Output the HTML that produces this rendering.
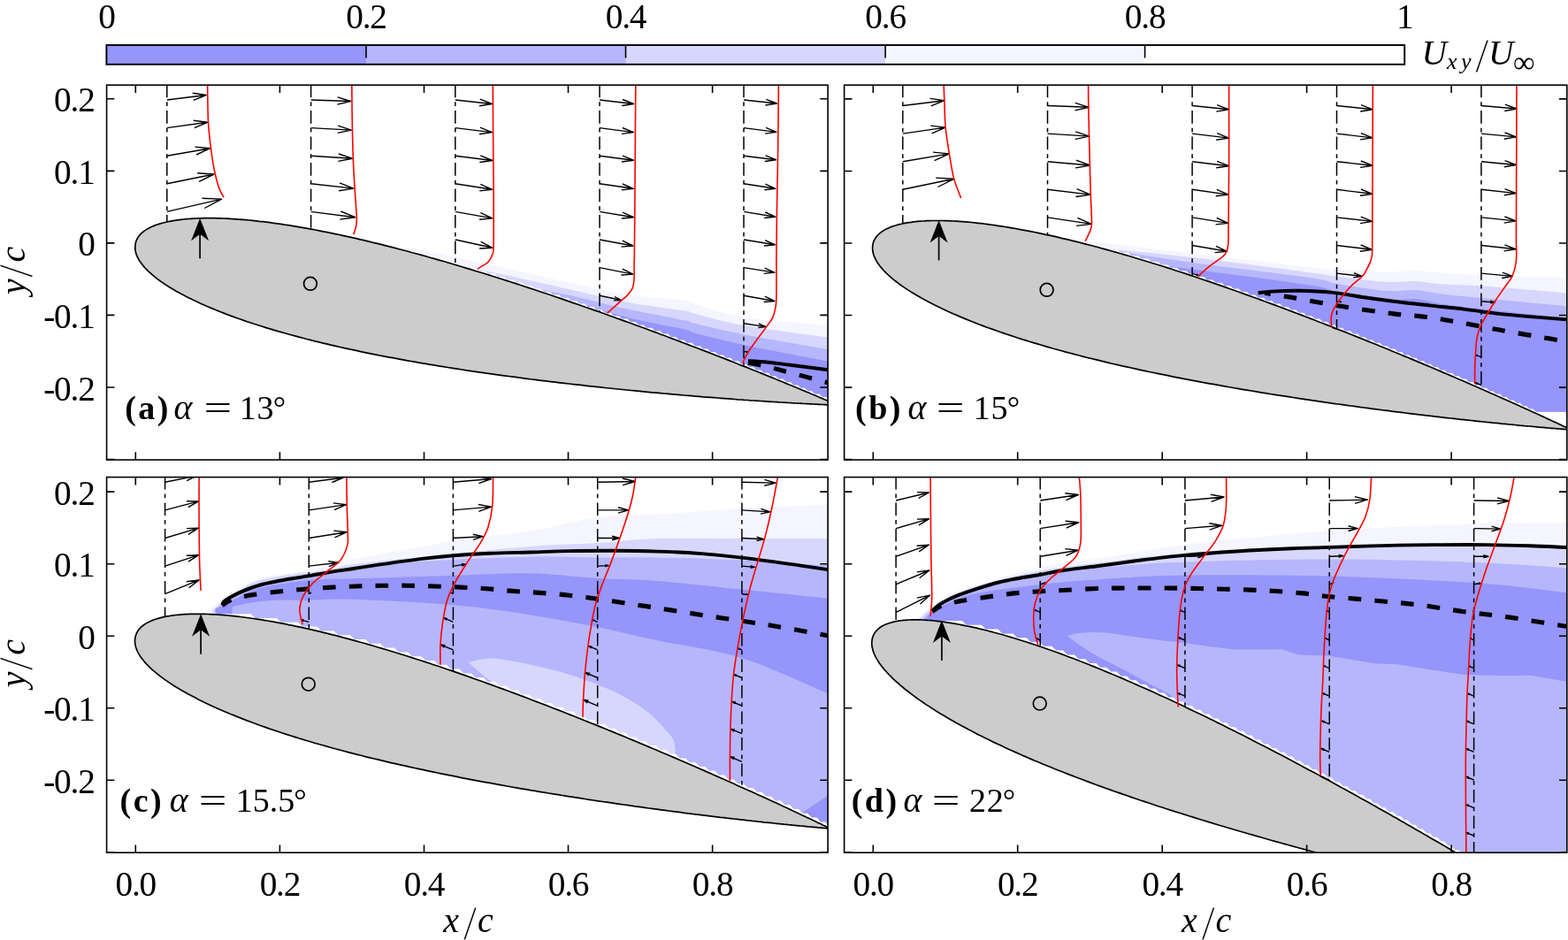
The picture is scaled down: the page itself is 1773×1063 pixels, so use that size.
<!DOCTYPE html>
<html lang="en"><head><meta charset="utf-8"><title>Velocity field around airfoil</title>
<style>html,body{margin:0;padding:0;background:#fff}body{width:1773px;height:1063px;overflow:hidden}svg{display:block}text{font-family:"Liberation Serif", "DejaVu Serif", serif;fill:#000;font-size:39.3px;letter-spacing:-1.2px}.m{font-style:italic;font-size:40px;letter-spacing:0}.b{font-weight:bold}.n{font-style:normal}.sl{font-style:normal;stroke:#fff;stroke-width:0.9px}.fr{fill:none;stroke:#000;stroke-width:1.6}.cb{fill:none;stroke:#000;stroke-width:1.9}.tk{stroke:#000;stroke-width:1.6;fill:none}.dd{stroke:#000;stroke-width:1.5;fill:none;stroke-dasharray:14.7 5 4.7 5.1}.ar{stroke:#000;stroke-width:1.4;fill:none;stroke-linejoin:round}.rd{stroke:#ff0000;stroke-width:1.6;fill:none}.ks{stroke:#000;stroke-width:3.9;fill:none;stroke-linecap:butt}.kd{stroke:#000;stroke-width:5.1;fill:none;stroke-dasharray:14.6 15.2}.af{fill:#cccccc;stroke:#000;stroke-width:1.7;stroke-linejoin:round}</style></head><body>
<svg width="1773" height="1063" viewBox="0 0 1773 1063">
<rect width="1773" height="1063" fill="#fff"/>
<g id="colorbar">
<rect x="120.4" y="51" width="294.1" height="21.8" fill="#9595fa"/>
<rect x="414" y="51" width="294.1" height="21.8" fill="#b6b6fc"/>
<rect x="707.5" y="51" width="294.1" height="21.8" fill="#d7d7fd"/>
<rect x="1001.1" y="51" width="294.1" height="21.8" fill="#f5f5ff"/>
<rect x="1294.6" y="51" width="294.1" height="21.8" fill="#ffffff"/>
<rect class="cb" x="120.4" y="51" width="1467.8" height="21.8"/>
<path class="tk" d="M414 51 v14.5"/>
<path class="tk" d="M707.5 51 v14.5"/>
<path class="tk" d="M1001.1 51 v14.5"/>
<path class="tk" d="M1294.6 51 v14.5"/>
<text x="120.4" y="31.8" text-anchor="middle">0</text>
<text x="414" y="31.8" text-anchor="middle">0.2</text>
<text x="707.5" y="31.8" text-anchor="middle">0.4</text>
<text x="1001.1" y="31.8" text-anchor="middle">0.6</text>
<text x="1294.6" y="31.8" text-anchor="middle">0.8</text>
<text x="1588.2" y="31.8" text-anchor="middle">1</text>
<text class="m" y="72.9" style="font-size:39.4px"><tspan x="1607.4">U</tspan><tspan x="1635.9" y="77.8" style="font-size:26px">x</tspan><tspan x="1651.9" y="77.8" style="font-size:26px">y</tspan><tspan class="sl" x="1668.1" y="80.8" style="font-size:55.9px">/</tspan><tspan x="1683" y="72.9">U</tspan><tspan class="n" x="1711" y="81.6" style="font-size:34.5px">∞</tspan></text>
</g>
<defs>
<clipPath id="cpa"><rect x="120.6" y="96.2" width="815.5" height="423.8"/></clipPath>
<clipPath id="cfa"><rect x="120.6" y="96.2" width="815.5" height="423.8"/></clipPath>
<clipPath id="cpb"><rect x="954.6" y="96.2" width="817.2" height="423.8"/></clipPath>
<clipPath id="cfb"><rect x="954.6" y="96.2" width="817.2" height="369.5"/></clipPath>
<clipPath id="cpc"><rect x="120.6" y="539.6" width="815.5" height="424.6"/></clipPath>
<clipPath id="cfc"><rect x="120.6" y="539.6" width="815.5" height="424.6"/></clipPath>
<clipPath id="cpd"><rect x="954.6" y="539.6" width="817.2" height="424.6"/></clipPath>
<clipPath id="cfd"><rect x="954.6" y="539.6" width="817.2" height="424.6"/></clipPath>
</defs>
<g id="panel-a">
<g clip-path="url(#cpa)">
<g clip-path="url(#cfa)">
<path d="M460 345.7 L460 280.5 C465.5 281.4 463 279.6 493 286 C523 292.4 604.2 310.8 640 318.6 C675.8 326.4 685.1 329.5 707.7 333 C730.3 336.5 762.7 338.1 775.4 339.8 C788.1 341.5 773.2 340.1 783.9 343.2 C794.6 346.3 814.7 354.3 839.8 358.4 C864.9 362.5 917.1 366 934.6 367.7 C952.1 369.4 943 368.5 944.7 368.7 L944.1 368.7 L944.1 600 L947.8 458.3 Z" fill="#f5f5ff"/>
<path d="M530 361.9 L530 302 C548.3 306 610.4 319.6 640 326.2 C669.6 332.8 685.1 337.3 707.7 341.5 C730.3 345.7 762.7 349.5 775.4 351.6 C788.1 353.7 773.2 351.5 783.9 354.2 C794.6 356.9 814.7 363.2 839.8 367.7 C864.9 372.2 917.1 378.8 934.6 381.3 C952.1 383.8 943 382.4 944.7 382.6 L944.1 382.6 L944.1 600 L947.8 458.3 Z" fill="#d7d7fd"/>
<path d="M580 373.4 L580 322 C590 323.8 618.7 328.5 640 333 C661.3 337.5 685.1 344.2 707.7 349.1 C730.3 354 762.7 359.9 775.4 362.6 C788.1 365.3 773.2 362.6 783.9 365.2 C794.6 367.8 814.7 373 839.8 377.9 C864.9 382.8 917.1 391.7 934.6 394.8 C952.1 397.9 943 396.2 944.7 396.5 L944.1 396.5 L944.1 600 L947.8 458.3 Z" fill="#b6b6fc"/>
<path d="M640 387.3 L640 338.6 C651.3 341.9 685.1 352.7 707.7 358.4 C730.3 364.1 762.7 369.8 775.4 372.8 C788.1 375.8 773.2 373.4 783.9 376.2 C794.6 379 814.7 384.3 839.8 389.7 C864.9 395.1 917.1 404.9 934.6 408.3 C952.1 411.7 943 409.7 944.7 410 L944.1 410 L944.1 600 L947.8 458.3 Z" fill="#9595fa"/>
</g>
<path d="M480 289.2 L491.5 289.2 L494.9 292.6 L503.4 292.6 L506.8 296 L514.8 296 L518.2 299.4 L526.2 299.4 L529.6 302.8 L537.6 302.8 L541 306.2 L548.5 306.2 L551.9 309.6 L559.4 309.6 L562.8 313 L570.3 313 L573.7 316.4 L580.7 316.4 L584.1 319.8 L591.1 319.8 L594.5 323.2 L601.5 323.2 L604.9 326.6 L611.9 326.6 L615.3 330 L621.8 330 L625.2 333.4 L632.2 333.4 L635.6 336.8 L642.1 336.8 L645.5 340.2 L652 340.2 L655.4 343.6 L661.4 343.6 L664.8 347 L671.3 347 L674.7 350.4 L680.7 350.4 L684.1 353.8 L690.6 353.8 L694 357.2 L700 357.2 L703.4 360.6 L709.4 360.6 L712.8 364 L718.8 364 L722.2 367.4 L727.7 367.4 L731.1 370.8 L737.1 370.8 L740.5 374.2 L746.5 374.2 L749.9 377.6 L755.4 377.6 L758.8 381 L764.3 381 L767.7 384.4 L773.2 384.4 L776.6 387.8 L782.6 387.8 L786 391.2 L791.5 391.2 L794.9 394.6 L799.9 394.6 L803.3 398 L808.8 398 L812.2 401.4 L817.7 401.4 L821.1 404.8 L826.1 404.8 L829.5 408.2 L835 408.2 L838.4 411.6 L843.4 411.6 L846.8 415 L851.8 415 L855.2 418.4 L860.2 418.4 L863.6 421.8 L868.6 421.8 L872 425.2 L877 425.2 L880.4 428.6 L885.4 428.6 L888.8 432 L893.8 432 L897.2 435.4 L902.2 435.4 L905.6 438.8 L910.1 438.8 L913.5 442.2 L918 442.2 L921.4 445.6 L926.4 445.6 L929.8 449 L934.3 449 L937.7 452.4 L942.2 452.4 L945.6 455.8 L946.6 455.8 L950 459.2 L950 459.3 L944 457.7 L938 455.1 L932 452.6 L926 450 L920 447.5 L914 445 L908 442.5 L902 440 L896 437.5 L890 435 L884 432.5 L878 430.1 L872 427.6 L866 425.2 L860 422.8 L854 420.4 L848 418 L842 415.6 L836 413.2 L830 410.8 L824 408.5 L818 406.1 L812 403.8 L806 401.4 L800 399.1 L794 396.8 L788 394.5 L782 392.2 L776 389.9 L770 387.6 L764 385.4 L758 383.1 L752 380.9 L746 378.6 L740 376.4 L734 374.2 L728 372 L722 369.8 L716 367.6 L710 365.4 L704 363.2 L698 361 L692 358.9 L686 356.7 L680 354.6 L674 352.5 L668 350.4 L662 348.3 L656 346.2 L650 344.1 L644 342 L638 340 L632 337.9 L626 335.9 L620 333.9 L614 331.8 L608 329.8 L602 327.8 L596 325.9 L590 323.9 L584 321.9 L578 320 L572 318.1 L566 316.2 L560 314.3 L554 312.4 L548 310.5 L542 308.7 L536 306.8 L530 305 L524 303.2 L518 301.4 L512 299.6 L506 297.9 L500 296.1 L494 294.4 L488 292.7 L482 291 L480 290.4Z" fill="#fff"/>
<path class="af" d="M153.3 274.9 L153.6 273.8 L154 272.6 L154.4 271.5 L154.9 270.4 L155.5 269.4 L156.1 268.4 L156.8 267.3 L157.6 266.4 L158.4 265.4 L159.3 264.4 L160.3 263.5 L161.3 262.6 L162.4 261.7 L163.5 260.9 L164.8 260.1 L166.1 259.3 L167.4 258.5 L168.8 257.7 L170.3 257 L171.9 256.3 L173.5 255.6 L175.1 254.9 L176.9 254.3 L178.7 253.7 L180.5 253.1 L182.5 252.5 L184.5 252 L186.5 251.5 L188.6 251 L190.8 250.5 L193 250.1 L195.3 249.7 L197.6 249.3 L200.1 248.9 L202.5 248.6 L205.1 248.3 L207.6 248 L210.3 247.7 L213 247.5 L215.7 247.3 L218.5 247.1 L221.4 247 L224.3 246.9 L227.3 246.8 L230.3 246.7 L233.4 246.7 L236.5 246.7 L239.7 246.7 L243 246.7 L246.3 246.8 L249.6 246.9 L253 247 L256.4 247.2 L259.9 247.4 L263.4 247.6 L267 247.8 L270.7 248.1 L274.3 248.4 L278.1 248.7 L281.8 249 L285.6 249.4 L289.5 249.8 L293.4 250.3 L297.3 250.7 L301.3 251.2 L305.3 251.7 L309.4 252.3 L313.5 252.8 L317.6 253.4 L321.8 254.1 L326 254.7 L330.3 255.4 L334.6 256.1 L338.9 256.8 L343.3 257.6 L347.7 258.4 L352.1 259.2 L356.5 260 L361 260.9 L365.5 261.8 L370.1 262.7 L374.7 263.6 L379.3 264.6 L383.9 265.5 L388.6 266.6 L393.3 267.6 L398 268.6 L402.7 269.7 L407.5 270.8 L412.3 271.9 L417.1 273.1 L421.9 274.3 L426.8 275.4 L431.6 276.6 L436.5 277.9 L441.4 279.1 L446.4 280.4 L451.3 281.7 L456.3 283 L461.3 284.3 L466.2 285.7 L471.2 287 L476.3 288.4 L481.3 289.8 L486.3 291.2 L491.4 292.6 L496.4 294.1 L501.5 295.5 L506.6 297 L511.7 298.5 L516.7 300 L521.8 301.5 L526.9 303.1 L532 304.6 L537.1 306.2 L542.2 307.7 L547.4 309.3 L552.5 310.9 L557.6 312.5 L562.7 314.1 L567.8 315.7 L572.9 317.4 L578 319 L583.1 320.6 L588.1 322.3 L593.2 324 L598.3 325.6 L603.4 327.3 L608.4 329 L613.5 330.7 L618.5 332.3 L623.5 334 L628.5 335.7 L633.5 337.4 L638.5 339.1 L643.5 340.9 L648.4 342.6 L653.4 344.3 L658.3 346 L663.2 347.7 L668.1 349.4 L673 351.1 L677.8 352.8 L682.6 354.5 L687.4 356.3 L692.2 358 L697 359.7 L701.7 361.4 L706.4 363.1 L711.1 364.8 L715.8 366.5 L720.4 368.2 L725 369.8 L729.6 371.5 L734.1 373.2 L738.6 374.9 L743.1 376.5 L747.5 378.2 L751.9 379.8 L756.3 381.5 L760.7 383.1 L765 384.7 L769.3 386.4 L773.5 388 L777.7 389.6 L781.9 391.2 L786 392.7 L790.1 394.3 L794.2 395.9 L798.2 397.4 L802.1 398.9 L806.1 400.5 L809.9 402 L813.8 403.5 L817.6 404.9 L821.3 406.4 L825.1 407.9 L828.7 409.3 L832.3 410.7 L835.9 412.2 L839.4 413.6 L842.9 414.9 L846.3 416.3 L849.7 417.7 L853 419 L856.3 420.3 L859.6 421.6 L862.7 422.9 L865.9 424.1 L868.9 425.4 L872 426.6 L874.9 427.8 L877.8 429 L880.7 430.2 L883.5 431.3 L886.3 432.5 L889 433.6 L891.6 434.7 L894.2 435.7 L896.7 436.8 L899.2 437.8 L901.6 438.8 L904 439.8 L906.3 440.7 L908.5 441.7 L910.7 442.6 L912.8 443.5 L914.9 444.3 L916.9 445.2 L918.8 446 L920.7 446.8 L922.5 447.5 L924.3 448.3 L926 449 L927.6 449.7 L929.2 450.4 L930.7 451 L932.1 451.6 L933.5 452.2 L934.8 452.8 L936.1 453.3 L937.3 453.8 L938.4 454.3 L939.5 454.8 L940.5 455.2 L941.4 455.6 L942.3 456 L943.1 456.3 L943.9 456.6 L944.5 456.9 L945.2 457.2 L945.7 457.4 L946.2 457.6 L946.6 457.8 L947 458 L947.3 458.1 L947.5 458.2 L947.7 458.3 L947.8 458.3 L947.8 458.3 L947.8 458.3 L947.8 458.3 L947.7 458.3 L947.5 458.3 L947.2 458.3 L946.9 458.3 L946.5 458.3 L946.1 458.2 L945.5 458.2 L944.9 458.2 L944.3 458.2 L943.5 458.1 L942.7 458.1 L941.8 458.1 L940.9 458 L939.8 458 L938.8 457.9 L937.6 457.9 L936.4 457.8 L935.1 457.8 L933.7 457.7 L932.3 457.6 L930.7 457.5 L929.2 457.5 L927.5 457.4 L925.8 457.3 L924.1 457.2 L922.2 457.1 L920.3 457 L918.3 456.9 L916.3 456.8 L914.2 456.7 L912 456.6 L909.8 456.5 L907.5 456.4 L905.1 456.2 L902.7 456.1 L900.2 456 L897.7 455.8 L895.1 455.7 L892.4 455.5 L889.7 455.4 L886.9 455.2 L884 455 L881.1 454.9 L878.1 454.7 L875.1 454.5 L872 454.3 L868.9 454.1 L865.7 453.9 L862.4 453.7 L859.1 453.5 L855.7 453.2 L852.3 453 L848.8 452.8 L845.3 452.5 L841.7 452.3 L838.1 452 L834.4 451.8 L830.7 451.5 L826.9 451.2 L823.1 450.9 L819.2 450.6 L815.2 450.3 L811.3 450 L807.2 449.7 L803.2 449.4 L799.1 449.1 L794.9 448.8 L790.7 448.4 L786.5 448.1 L782.2 447.7 L777.9 447.4 L773.5 447 L769.1 446.6 L764.6 446.2 L760.2 445.8 L755.6 445.4 L751.1 445 L746.5 444.6 L741.9 444.2 L737.2 443.8 L732.5 443.3 L727.8 442.9 L723 442.4 L718.2 441.9 L713.4 441.5 L708.6 441 L703.7 440.5 L698.8 440 L693.8 439.5 L688.9 439 L683.9 438.5 L678.9 437.9 L673.9 437.4 L668.8 436.9 L663.8 436.3 L658.7 435.7 L653.6 435.2 L648.4 434.6 L643.3 434 L638.1 433.4 L633 432.8 L627.8 432.2 L622.6 431.6 L617.3 430.9 L612.1 430.3 L606.9 429.6 L601.6 429 L596.3 428.3 L591.1 427.6 L585.8 426.9 L580.5 426.2 L575.2 425.5 L569.9 424.8 L564.6 424.1 L559.3 423.4 L554 422.6 L548.7 421.9 L543.4 421.1 L538.1 420.3 L532.9 419.6 L527.6 418.8 L522.3 418 L517 417.2 L511.7 416.3 L506.4 415.5 L501.2 414.7 L495.9 413.8 L490.7 412.9 L485.4 412.1 L480.2 411.2 L475 410.3 L469.8 409.4 L464.6 408.5 L459.5 407.6 L454.3 406.6 L449.2 405.7 L444.1 404.7 L439 403.8 L433.9 402.8 L428.8 401.8 L423.8 400.8 L418.8 399.8 L413.8 398.8 L408.9 397.8 L403.9 396.7 L399 395.7 L394.1 394.6 L389.3 393.6 L384.5 392.5 L379.7 391.4 L374.9 390.3 L370.2 389.2 L365.5 388.1 L360.8 386.9 L356.2 385.8 L351.6 384.6 L347 383.5 L342.5 382.3 L338 381.1 L333.5 379.9 L329.1 378.7 L324.8 377.5 L320.4 376.3 L316.1 375.1 L311.9 373.9 L307.7 372.6 L303.5 371.4 L299.4 370.1 L295.3 368.8 L291.3 367.5 L287.3 366.3 L283.4 365 L279.5 363.7 L275.6 362.4 L271.9 361 L268.1 359.7 L264.4 358.4 L260.8 357.1 L257.2 355.7 L253.7 354.4 L250.2 353 L246.7 351.6 L243.4 350.3 L240 348.9 L236.8 347.5 L233.6 346.2 L230.4 344.8 L227.3 343.4 L224.3 342 L221.3 340.6 L218.4 339.2 L215.5 337.8 L212.7 336.4 L209.9 335 L207.2 333.6 L204.6 332.2 L202.1 330.8 L199.5 329.4 L197.1 328 L194.7 326.6 L192.4 325.2 L190.1 323.8 L187.9 322.4 L185.8 321 L183.8 319.6 L181.7 318.2 L179.8 316.8 L177.9 315.4 L176.1 314 L174.4 312.6 L172.7 311.2 L171.1 309.8 L169.6 308.4 L168.1 307.1 L166.7 305.7 L165.3 304.3 L164 303 L162.8 301.6 L161.7 300.3 L160.6 298.9 L159.6 297.6 L158.7 296.3 L157.8 295 L157 293.6 L156.3 292.3 L155.6 291 L155 289.8 L154.5 288.5 L154 287.2 L153.7 285.9 L153.3 284.7 L153.1 283.4 L152.9 282.2 L152.8 280.9 L152.8 279.7 L152.8 278.5 L152.9 277.3 L153.1 276.1 L153.3 274.9Z"/>
<path class="dd" d="M188.8 95.5 V250.9"/>
<path class="dd" d="M351.6 95.5 V259.1"/>
<path class="dd" d="M514.8 95.5 V299.4"/>
<path class="dd" d="M678 95.5 V352.9"/>
<path class="dd" d="M841 95.5 V414.2"/>
<path class="ar" d="M188.8 113 L233.1 107.5 M218.8 113.3 L233.1 107.5 L217.8 105.3 M188.8 144.6 L234.6 138.3 M219.8 144.6 L234.6 138.3 L218.7 136.3 M188.8 176.2 L237.6 167.7 M222 175 L237.6 167.7 L220.5 166.1 M188.8 207.8 L241.9 197 M225.1 205.4 L241.9 197 L223.1 195.8 M188.8 239.4 L250.6 225.1 M231.2 235.5 L250.6 225.1 L228.6 224.3 M351.6 113 L396.6 114.5 M381.4 118.1 L396.6 114.5 L381.6 109.9 M351.6 144.6 L397.3 147.1 M381.8 150.4 L397.3 147.1 L382.2 142.1 M351.6 176.2 L398.3 179.2 M382.4 182.4 L398.3 179.2 L382.9 174 M351.6 207.8 L399.8 213.1 M383.2 215.7 L399.8 213.1 L384.1 206.9 M351.6 239.4 L401.6 245.7 M384.3 248.1 L401.6 245.7 L385.4 239 M514.8 113 L556.3 117.5 M542 119.8 L556.3 117.5 L542.8 112.2 M514.8 144.6 L556.3 149.6 M542 151.7 L556.3 149.6 L542.9 144.2 M514.8 176.2 L556.8 181.5 M542.3 183.5 L556.8 181.5 L543.2 175.9 M514.8 207.8 L556.8 214.3 M542.2 215.9 L556.8 214.3 L543.3 208.3 M514.8 239.4 L556.8 246.9 M542.1 248.2 L556.8 246.9 L543.4 240.6 M514.8 271 L557.1 280.3 M542.1 281 L557.1 280.3 L543.7 273.3 M678 113 L716.5 117.5 M703.2 119.5 L716.5 117.5 L704 112.5 M678 144.6 L716.3 149.6 M703 151.4 L716.3 149.6 L703.9 144.5 M678 176.2 L716.3 181.2 M703 183 L716.3 181.2 L703.9 176.1 M678 207.8 L716.3 213.3 M702.9 214.9 L716.3 213.3 L703.9 208 M678 239.4 L716.3 245.7 M702.9 247 L716.3 245.7 L704 240.1 M678 271 L715.8 278 M702.5 279.1 L715.8 278 L703.7 272.2 M678 302.6 L715.8 310.1 M702.4 311 L715.8 310.1 L703.8 304.2 M678 334.2 L702.7 339.5 M694 339.9 L702.7 339.5 L694.9 335.5 M841 113 L878.4 117 M865.5 119 L878.4 117 L866.3 112.3 M841 144.6 L877.9 149.4 M865.1 151.1 L877.9 149.4 L866 144.4 M841 176.2 L877.4 180.7 M864.8 182.5 L877.4 180.7 L865.6 175.9 M841 207.8 L876.9 213.3 M864.4 214.7 L876.9 213.3 L865.4 208.2 M841 239.4 L876.7 245.2 M864.2 246.5 L876.7 245.2 L865.2 240 M841 271 L876.4 276.8 M864 278 L876.4 276.8 L865.1 271.6 M841 302.6 L875.9 308.1 M863.7 309.4 L875.9 308.1 L864.7 303.1 M841 334.2 L875.9 340.5 M863.7 341.5 L875.9 340.5 L864.8 335.2 M841 365.8 L865.9 369.6 M857.2 370.6 L865.9 369.6 L857.9 366 M841 397.4 L845.9 398.2 M844.2 398.3 L845.9 398.2 L844.3 397.5"/>
<path class="ks" d="M845.9 408.2 C849.7 408.4 860.5 408.9 868.4 409.7 C876.3 410.4 882.2 411.3 893.5 412.7 C904.7 414.1 927.7 417.1 936 418.2 C944.3 419.3 942.3 419 943.5 419.2"/>
<path class="kd" d="M845.9 410.2 C849.7 410.9 860.5 412.8 868.4 414.7 C876.3 416.6 882.2 418.4 893.5 421.4 C904.7 424.4 927.7 430.5 936 432.7 C944.3 434.9 942.3 434.4 943.5 434.7"/>
<path class="rd" d="M234.6 95 C234.7 98.3 234.7 107.5 234.9 115 C235 122.5 235.1 131.7 235.6 140.1 C236.2 148.4 237.1 156.7 238.1 165.1 C239.2 173.4 240.3 182.2 241.9 190.1 C243.5 198 245.8 207.1 247.6 212.6 C249.5 218.1 252.2 221.4 253.1 223.1"/>
<path class="rd" d="M397.8 95 C397.9 102.5 398 124.2 398.3 140.1 C398.6 155.9 399.1 175.1 399.8 190.1 C400.5 205.1 401.7 221 402.3 230.2 C402.9 239.3 403.2 241 403.3 245.2 C403.4 249.3 403.4 251.8 402.8 255.2 C402.2 258.5 400.3 263.5 399.8 265.2"/>
<path class="rd" d="M557.3 95 C557.4 104.6 557.4 132.5 557.6 152.6 C557.7 172.6 558 194.3 558.1 215.1 C558.2 236 558.3 265.6 558.1 277.7 C557.9 289.8 557.9 284.6 556.8 287.7 C555.8 290.9 554.7 293.7 551.8 296.5 C549 299.2 541.8 302.9 539.8 304.2"/>
<path class="rd" d="M718.8 95 C718.7 106.7 718.4 140.9 718.3 165.1 C718.1 189.3 717.9 219.3 717.8 240.2 C717.6 261 717.4 280.3 717.3 290.2 C717.1 300.2 717 295.8 717 300 C717 304.2 717.3 311 717 315.2 C716.7 319.4 716.6 322.3 715.3 325.4 C714 328.5 711.5 331.5 709.4 333.9 C707.3 336.3 705.1 337.6 702.6 339.8 C700.1 342.1 696.9 345 694.2 347.4 C691.5 349.8 687.9 353.1 686.6 354.2"/>
<path class="rd" d="M880.4 95 C880.3 106.7 880 140.9 879.7 165.1 C879.4 189.3 878.7 219.3 878.4 240.2 C878.1 261 878 280.3 877.9 290.2 C877.8 300.2 877.9 292.7 877.9 300 C877.9 307.3 878 326 877.9 333.9 C877.8 341.8 877.7 343.2 877 347.4 C876.3 351.6 875.3 355.6 873.6 359.3 C871.9 363 869.6 365.4 866.8 369.4 C864 373.3 859.8 378.8 856.7 383 C853.6 387.2 850.6 391.1 848.2 394.8 C845.8 398.5 843.7 402.3 842.3 405 C840.9 407.7 840.2 409.9 839.8 410.9"/>
<circle cx="350.9" cy="320.8" r="7.4" fill="none" stroke="#000" stroke-width="1.7"/>
<path d="M226.1 292.2 V258.7" stroke="#000" stroke-width="1.7" fill="none"/>
<path d="M226.1 246.7 L236.1 272.2 L226.1 264.7 L216.1 272.2Z" fill="#000"/>
</g>
<path class="tk" d="M153.3 520 v-8.8 M153.3 96.2 v8.8 M316.4 520 v-8.8 M316.4 96.2 v8.8 M479.5 520 v-8.8 M479.5 96.2 v8.8 M642.5 520 v-8.8 M642.5 96.2 v8.8 M805.6 520 v-8.8 M805.6 96.2 v8.8 M120.6 519.5 h8.8 M936.1 519.5 h-8.8 M120.6 438 h8.8 M936.1 438 h-8.8 M120.6 356.4 h8.8 M936.1 356.4 h-8.8 M120.6 274.9 h8.8 M936.1 274.9 h-8.8 M120.6 193.4 h8.8 M936.1 193.4 h-8.8 M120.6 111.8 h8.8 M936.1 111.8 h-8.8"/>
<rect class="fr" x="120.6" y="96.2" width="815.5" height="423.8"/>
<text x="106.6" y="126.3" text-anchor="end">0.2</text>
<text x="106.6" y="207.9" text-anchor="end">0.1</text>
<text x="106.6" y="289.4" text-anchor="end">0</text>
<text x="106.6" y="370.9" text-anchor="end">-0.1</text>
<text x="106.6" y="452.5" text-anchor="end">-0.2</text>
<text class="m" transform="translate(28.4 334.6) rotate(-90)"><tspan x="1.6" y="0">y</tspan><tspan class="sl" x="20.6" y="7.7" style="font-size:55px">/</tspan><tspan x="38.1" y="0">c</tspan></text>
<text y="474.1" style="font-size:38px;letter-spacing:0"><tspan class="b" x="141.3" style="letter-spacing:2.4px">(a)</tspan><tspan class="m" x="196.6">α</tspan><tspan x="230.6" textLength="31.7" lengthAdjust="spacingAndGlyphs">=</tspan><tspan x="270.8" style="letter-spacing:0.8px">13</tspan><tspan x="308.7" y="473.3" style="font-size:36px">°</tspan></text>
</g>
<g id="panel-b">
<g clip-path="url(#cpb)">
<g clip-path="url(#cfb)">
<path d="M1229 339.6 L1229 272.3 C1248.8 274.7 1306.2 281.8 1348 286.7 C1389.8 291.6 1452.8 298.9 1480 302 C1507.2 305.1 1496.8 304.1 1511.5 305.1 C1526.1 306 1553 307.4 1567.8 307.6 C1582.6 307.7 1589.9 305.8 1600.3 306.1 C1610.7 306.3 1617 307.9 1630.3 308.8 C1643.7 309.7 1656.8 310.3 1680.4 311.3 C1704 312.3 1755.1 313.9 1771.7 314.6 C1788.4 315.2 1779 315 1780.5 315.1 L1779.8 315.1 L1779.8 600 L1776.7 486 Z" fill="#f5f5ff"/>
<path d="M1247.7 344.6 L1247.7 280.8 C1264.4 282.5 1309.3 286.5 1348 291 C1386.7 295.5 1452.8 304.3 1480 307.9 C1507.2 311.5 1496.8 310.7 1511.5 312.6 C1526.1 314.4 1553 317.9 1567.8 318.8 C1582.6 319.7 1589.9 317.6 1600.3 318.1 C1610.7 318.5 1617 320.4 1630.3 321.3 C1643.7 322.3 1656.8 322.2 1680.4 323.8 C1704 325.5 1755.1 330 1771.7 331.3 C1788.4 332.7 1779 332 1780.5 332.1 L1779.8 332.1 L1779.8 600 L1776.7 486 Z" fill="#d7d7fd"/>
<path d="M1264.6 349.1 L1264.6 284.2 C1278.5 286.3 1312.1 292 1348 296.9 C1383.9 301.8 1452.8 309.8 1480 313.8 C1507.2 317.8 1496.8 318.3 1511.5 320.8 C1526.1 323.3 1553 327.6 1567.8 328.8 C1582.6 330 1589.9 327.5 1600.3 328.1 C1610.7 328.7 1617 331 1630.3 332.6 C1643.7 334.2 1656.8 335.3 1680.4 337.6 C1704 339.9 1755.1 344.8 1771.7 346.3 C1788.4 347.9 1779 347 1780.5 347.1 L1779.8 347.1 L1779.8 600 L1776.7 486 Z" fill="#b6b6fc"/>
<path d="M1298.5 358.2 L1298.5 297.7 C1306.8 298.8 1317.8 300.4 1348 304.5 C1378.2 308.6 1452.8 318 1480 322.3 C1507.2 326.6 1496.8 327.3 1511.5 330.1 C1526.1 332.8 1553 337.5 1567.8 338.8 C1582.6 340.2 1589.9 337.3 1600.3 338.1 C1610.7 338.9 1617 341.8 1630.3 343.8 C1643.7 345.8 1656.8 347.5 1680.4 350.1 C1704 352.7 1755.1 357.9 1771.7 359.6 C1788.4 361.3 1779 360 1780.5 360.1 L1779.8 360.1 L1779.8 600 L1776.7 486 Z" fill="#9595fa"/>
</g>
<path d="M1240 279 L1252 279 L1255.4 282.4 L1263.9 282.4 L1267.3 285.8 L1275.8 285.8 L1279.2 289.2 L1287.2 289.2 L1290.6 292.6 L1298.6 292.6 L1302 296 L1309.5 296 L1312.9 299.4 L1320.4 299.4 L1323.8 302.8 L1330.8 302.8 L1334.2 306.2 L1341.2 306.2 L1344.6 309.6 L1351.6 309.6 L1355 313 L1361.5 313 L1364.9 316.4 L1371.4 316.4 L1374.8 319.8 L1381.3 319.8 L1384.7 323.2 L1391.2 323.2 L1394.6 326.6 L1400.6 326.6 L1404 330 L1410 330 L1413.4 333.4 L1419.4 333.4 L1422.8 336.8 L1428.8 336.8 L1432.2 340.2 L1438.2 340.2 L1441.6 343.6 L1447.1 343.6 L1450.5 347 L1456.5 347 L1459.9 350.4 L1465.4 350.4 L1468.8 353.8 L1474.3 353.8 L1477.7 357.2 L1483.2 357.2 L1486.6 360.6 L1492.1 360.6 L1495.5 364 L1500.5 364 L1503.9 367.4 L1509.4 367.4 L1512.8 370.8 L1517.8 370.8 L1521.2 374.2 L1526.7 374.2 L1530.1 377.6 L1535.1 377.6 L1538.5 381 L1543.5 381 L1546.9 384.4 L1551.9 384.4 L1555.3 387.8 L1560.3 387.8 L1563.7 391.2 L1568.7 391.2 L1572.1 394.6 L1577.1 394.6 L1580.5 398 L1585 398 L1588.4 401.4 L1593.4 401.4 L1596.8 404.8 L1601.3 404.8 L1604.7 408.2 L1609.7 408.2 L1613.1 411.6 L1617.6 411.6 L1621 415 L1625.5 415 L1628.9 418.4 L1633.4 418.4 L1636.8 421.8 L1641.8 421.8 L1645.2 425.2 L1649.7 425.2 L1653.1 428.6 L1657.6 428.6 L1661 432 L1665 432 L1668.4 435.4 L1672.9 435.4 L1676.3 438.8 L1680.8 438.8 L1684.2 442.2 L1688.2 442.2 L1691.6 445.6 L1696.1 445.6 L1699.5 449 L1703.5 449 L1706.9 452.4 L1711.4 452.4 L1714.8 455.8 L1718.8 455.8 L1722.2 459.2 L1726.2 459.2 L1729.6 462.6 L1733.6 462.6 L1737 466 L1741 466 L1744.4 469.4 L1748.4 469.4 L1751.8 472.8 L1755.8 472.8 L1759.2 476.2 L1763.2 476.2 L1766.6 479.6 L1770.6 479.6 L1774 483 L1782 483 L1785.4 486.4 L1785.4 487 L1779.4 487 L1773.4 485.5 L1767.4 482.7 L1761.4 479.9 L1755.4 477.1 L1749.4 474.3 L1743.4 471.6 L1737.4 468.8 L1731.4 466.1 L1725.4 463.3 L1719.4 460.6 L1713.4 457.9 L1707.4 455.2 L1701.4 452.5 L1695.4 449.9 L1689.4 447.2 L1683.4 444.5 L1677.4 441.9 L1671.4 439.3 L1665.4 436.7 L1659.4 434 L1653.4 431.4 L1647.4 428.9 L1641.4 426.3 L1635.4 423.7 L1629.4 421.1 L1623.4 418.6 L1617.4 416 L1611.4 413.5 L1605.4 411 L1599.4 408.5 L1593.4 406 L1587.4 403.5 L1581.4 401 L1575.4 398.5 L1569.4 396.1 L1563.4 393.6 L1557.4 391.2 L1551.4 388.7 L1545.4 386.3 L1539.4 383.9 L1533.4 381.5 L1527.4 379.1 L1521.4 376.7 L1515.4 374.3 L1509.4 372 L1503.4 369.6 L1497.4 367.3 L1491.4 365 L1485.4 362.6 L1479.4 360.3 L1473.4 358 L1467.4 355.8 L1461.4 353.5 L1455.4 351.2 L1449.4 349 L1443.4 346.7 L1437.4 344.5 L1431.4 342.3 L1425.4 340.1 L1419.4 337.9 L1413.4 335.7 L1407.4 333.6 L1401.4 331.4 L1395.4 329.3 L1389.4 327.2 L1383.4 325.1 L1377.4 323 L1371.4 320.9 L1365.4 318.8 L1359.4 316.8 L1353.4 314.8 L1347.4 312.8 L1341.4 310.8 L1335.4 308.8 L1329.4 306.9 L1323.4 304.9 L1317.4 303 L1311.4 301.1 L1305.4 299.2 L1299.4 297.4 L1293.4 295.5 L1287.4 293.7 L1281.4 291.9 L1275.4 290.2 L1269.4 288.4 L1263.4 286.7 L1257.4 285 L1251.4 283.3 L1245.4 281.7 L1240 280.2Z" fill="#fff"/>
<path class="af" d="M987.3 275 L987.6 273.9 L988 272.8 L988.5 271.7 L989.1 270.6 L989.7 269.6 L990.3 268.6 L991.1 267.6 L991.9 266.6 L992.7 265.7 L993.7 264.8 L994.7 263.9 L995.7 263 L996.9 262.2 L998 261.4 L999.3 260.6 L1000.6 259.8 L1002 259.1 L1003.5 258.4 L1005 257.7 L1006.5 257 L1008.2 256.4 L1009.9 255.8 L1011.6 255.2 L1013.5 254.7 L1015.3 254.1 L1017.3 253.7 L1019.3 253.2 L1021.4 252.7 L1023.5 252.3 L1025.7 251.9 L1027.9 251.6 L1030.2 251.3 L1032.6 250.9 L1035 250.7 L1037.5 250.4 L1040.1 250.2 L1042.7 250 L1045.3 249.9 L1048 249.7 L1050.8 249.6 L1053.6 249.5 L1056.5 249.5 L1059.4 249.5 L1062.4 249.5 L1065.4 249.5 L1068.5 249.6 L1071.7 249.7 L1074.9 249.8 L1078.1 250 L1081.4 250.2 L1084.7 250.4 L1088.1 250.6 L1091.6 250.9 L1095 251.2 L1098.6 251.5 L1102.2 251.9 L1105.8 252.3 L1109.5 252.7 L1113.2 253.2 L1116.9 253.6 L1120.7 254.2 L1124.6 254.7 L1128.5 255.3 L1132.4 255.9 L1136.4 256.5 L1140.4 257.1 L1144.4 257.8 L1148.5 258.5 L1152.6 259.3 L1156.8 260.1 L1161 260.9 L1165.2 261.7 L1169.5 262.5 L1173.8 263.4 L1178.2 264.3 L1182.5 265.3 L1186.9 266.2 L1191.4 267.2 L1195.8 268.2 L1200.3 269.3 L1204.9 270.3 L1209.4 271.4 L1214 272.6 L1218.6 273.7 L1223.3 274.9 L1227.9 276.1 L1232.6 277.3 L1237.3 278.5 L1242 279.8 L1246.8 281.1 L1251.6 282.4 L1256.4 283.7 L1261.2 285.1 L1266 286.5 L1270.9 287.9 L1275.8 289.3 L1280.7 290.7 L1285.6 292.2 L1290.5 293.7 L1295.4 295.2 L1300.4 296.7 L1305.3 298.2 L1310.3 299.8 L1315.3 301.3 L1320.3 302.9 L1325.3 304.5 L1330.3 306.2 L1335.3 307.8 L1340.4 309.4 L1345.4 311.1 L1350.4 312.8 L1355.5 314.5 L1360.5 316.2 L1365.6 317.9 L1370.7 319.6 L1375.7 321.4 L1380.8 323.1 L1385.8 324.9 L1390.9 326.7 L1396 328.5 L1401 330.3 L1406.1 332.1 L1411.1 333.9 L1416.1 335.7 L1421.2 337.5 L1426.2 339.4 L1431.2 341.2 L1436.3 343.1 L1441.3 344.9 L1446.3 346.8 L1451.2 348.6 L1456.2 350.5 L1461.2 352.4 L1466.1 354.3 L1471.1 356.1 L1476 358 L1480.9 359.9 L1485.8 361.8 L1490.6 363.7 L1495.5 365.5 L1500.3 367.4 L1505.1 369.3 L1509.9 371.2 L1514.7 373.1 L1519.4 374.9 L1524.2 376.8 L1528.9 378.7 L1533.6 380.6 L1538.2 382.4 L1542.8 384.3 L1547.4 386.1 L1552 388 L1556.6 389.8 L1561.1 391.7 L1565.6 393.5 L1570 395.3 L1574.5 397.2 L1578.9 399 L1583.2 400.8 L1587.6 402.6 L1591.9 404.3 L1596.1 406.1 L1600.4 407.9 L1604.5 409.6 L1608.7 411.4 L1612.8 413.1 L1616.9 414.8 L1620.9 416.5 L1624.9 418.2 L1628.9 419.9 L1632.8 421.6 L1636.7 423.3 L1640.5 424.9 L1644.3 426.5 L1648.1 428.2 L1651.8 429.8 L1655.5 431.3 L1659.1 432.9 L1662.7 434.5 L1666.2 436 L1669.7 437.5 L1673.1 439 L1676.5 440.5 L1679.8 442 L1683.1 443.4 L1686.4 444.9 L1689.6 446.3 L1692.7 447.7 L1695.8 449 L1698.8 450.4 L1701.8 451.7 L1704.7 453 L1707.6 454.3 L1710.4 455.6 L1713.2 456.8 L1715.9 458 L1718.6 459.2 L1721.2 460.4 L1723.7 461.6 L1726.2 462.7 L1728.7 463.8 L1731.1 464.9 L1733.4 466 L1735.7 467 L1737.9 468 L1740 469 L1742.1 470 L1744.1 470.9 L1746.1 471.8 L1748 472.7 L1749.9 473.6 L1751.7 474.4 L1753.4 475.2 L1755.1 476 L1756.7 476.7 L1758.3 477.4 L1759.8 478.1 L1761.2 478.8 L1762.5 479.4 L1763.9 480 L1765.1 480.6 L1766.3 481.2 L1767.4 481.7 L1768.4 482.2 L1769.4 482.6 L1770.4 483.1 L1771.2 483.5 L1772 483.9 L1772.8 484.2 L1773.4 484.5 L1774.1 484.8 L1774.6 485.1 L1775.1 485.3 L1775.5 485.5 L1775.9 485.7 L1776.1 485.8 L1776.4 485.9 L1776.5 486 L1776.6 486 L1776.7 486 L1776.7 486 L1776.6 486 L1776.5 486 L1776.3 486 L1776.1 486 L1775.8 486 L1775.4 485.9 L1774.9 485.9 L1774.4 485.9 L1773.8 485.8 L1773.1 485.8 L1772.4 485.7 L1771.6 485.6 L1770.7 485.6 L1769.7 485.5 L1768.7 485.4 L1767.6 485.3 L1766.4 485.2 L1765.2 485.1 L1763.9 485 L1762.5 484.9 L1761.1 484.8 L1759.6 484.7 L1758 484.5 L1756.4 484.4 L1754.7 484.3 L1752.9 484.1 L1751.1 484 L1749.2 483.8 L1747.2 483.6 L1745.2 483.4 L1743 483.3 L1740.9 483.1 L1738.6 482.9 L1736.4 482.7 L1734 482.5 L1731.6 482.2 L1729.1 482 L1726.5 481.8 L1723.9 481.6 L1721.3 481.3 L1718.5 481.1 L1715.7 480.8 L1712.9 480.5 L1710 480.2 L1707 480 L1704 479.7 L1700.9 479.4 L1697.7 479.1 L1694.5 478.7 L1691.3 478.4 L1688 478.1 L1684.6 477.7 L1681.2 477.4 L1677.7 477 L1674.2 476.7 L1670.6 476.3 L1667 475.9 L1663.3 475.5 L1659.6 475.1 L1655.8 474.7 L1652 474.3 L1648.1 473.9 L1644.2 473.4 L1640.2 473 L1636.2 472.6 L1632.1 472.1 L1628 471.6 L1623.9 471.1 L1619.7 470.7 L1615.4 470.2 L1611.1 469.7 L1606.8 469.1 L1602.5 468.6 L1598.1 468.1 L1593.6 467.6 L1589.1 467 L1584.6 466.4 L1580.1 465.9 L1575.5 465.3 L1570.9 464.7 L1566.2 464.1 L1561.5 463.5 L1556.8 462.9 L1552.1 462.3 L1547.3 461.7 L1542.5 461 L1537.6 460.4 L1532.8 459.7 L1527.9 459 L1523 458.4 L1518 457.7 L1513 457 L1508 456.3 L1503 455.6 L1498 454.9 L1492.9 454.1 L1487.9 453.4 L1482.8 452.6 L1477.6 451.9 L1472.5 451.1 L1467.4 450.3 L1462.2 449.5 L1457 448.7 L1451.8 447.9 L1446.6 447.1 L1441.4 446.3 L1436.2 445.5 L1430.9 444.6 L1425.7 443.8 L1420.4 442.9 L1415.2 442 L1409.9 441.2 L1404.6 440.3 L1399.4 439.4 L1394.1 438.5 L1388.8 437.5 L1383.5 436.6 L1378.2 435.7 L1373 434.7 L1367.7 433.8 L1362.4 432.8 L1357.1 431.8 L1351.9 430.9 L1346.6 429.9 L1341.3 428.9 L1336.1 427.8 L1330.8 426.8 L1325.6 425.8 L1320.4 424.7 L1315.2 423.7 L1310 422.6 L1304.8 421.5 L1299.6 420.5 L1294.5 419.4 L1289.3 418.3 L1284.2 417.2 L1279.1 416 L1274 414.9 L1268.9 413.8 L1263.9 412.6 L1258.8 411.5 L1253.8 410.3 L1248.9 409.1 L1243.9 407.9 L1239 406.7 L1234.1 405.5 L1229.2 404.3 L1224.3 403.1 L1219.5 401.8 L1214.7 400.6 L1209.9 399.3 L1205.2 398.1 L1200.5 396.8 L1195.8 395.5 L1191.2 394.2 L1186.6 392.9 L1182 391.6 L1177.5 390.3 L1173 388.9 L1168.6 387.6 L1164.1 386.3 L1159.8 384.9 L1155.4 383.6 L1151.1 382.2 L1146.9 380.8 L1142.7 379.4 L1138.5 378 L1134.4 376.6 L1130.3 375.2 L1126.3 373.8 L1122.3 372.4 L1118.3 371 L1114.4 369.6 L1110.6 368.1 L1106.8 366.7 L1103 365.2 L1099.3 363.8 L1095.7 362.3 L1092.1 360.9 L1088.5 359.4 L1085 357.9 L1081.6 356.4 L1078.2 355 L1074.9 353.5 L1071.6 352 L1068.4 350.5 L1065.2 349 L1062.1 347.5 L1059 346 L1056 344.5 L1053.1 343 L1050.2 341.5 L1047.4 340 L1044.6 338.6 L1041.9 337.1 L1039.3 335.6 L1036.7 334.1 L1034.2 332.6 L1031.7 331.1 L1029.3 329.6 L1027 328.1 L1024.7 326.6 L1022.5 325.1 L1020.3 323.6 L1018.3 322.2 L1016.2 320.7 L1014.3 319.2 L1012.4 317.8 L1010.6 316.3 L1008.8 314.8 L1007.1 313.4 L1005.5 312 L1003.9 310.5 L1002.4 309.1 L1001 307.7 L999.6 306.3 L998.3 304.8 L997.1 303.4 L995.9 302 L994.8 300.7 L993.8 299.3 L992.8 297.9 L991.9 296.6 L991.1 295.2 L990.4 293.9 L989.7 292.5 L989.1 291.2 L988.5 289.9 L988 288.6 L987.6 287.3 L987.3 286 L987 284.8 L986.8 283.5 L986.7 282.3 L986.6 281 L986.6 279.8 L986.7 278.6 L986.8 277.4 L987 276.2 L987.3 275Z"/>
<path class="dd" d="M1020.8 95.5 V252.9"/>
<path class="dd" d="M1184.5 95.5 V265.7"/>
<path class="dd" d="M1348.1 95.5 V312"/>
<path class="dd" d="M1511.5 95.5 V371.8"/>
<path class="dd" d="M1674.9 95.5 V439.8"/>
<path class="ar" d="M1020.8 119.5 L1067.9 113.7 M1052.6 119.9 L1067.9 113.7 L1051.6 111.4 M1020.8 151.1 L1069.1 144.1 M1053.6 150.8 L1069.1 144.1 L1052.3 142.1 M1020.8 182.7 L1073.4 173.9 M1056.6 181.6 L1073.4 173.9 L1055 172.1 M1020.8 214.3 L1078.6 202.3 M1060.4 211.5 L1078.6 202.3 L1058.2 201.1 M1184.5 119.5 L1231.3 121.3 M1215.5 124.9 L1231.3 121.3 L1215.8 116.4 M1184.5 151.1 L1231.8 154.1 M1215.7 157.4 L1231.8 154.1 L1216.2 148.8 M1184.5 182.7 L1232.6 187 M1216.1 189.9 L1232.6 187 L1216.8 181.2 M1184.5 214.3 L1233.3 220.1 M1216.4 222.5 L1233.3 220.1 L1217.5 213.7 M1184.5 245.9 L1234.3 253.4 M1216.9 255.4 L1234.3 253.4 L1218.3 246.4 M1348.1 119.5 L1389.6 123.8 M1375.3 126.1 L1389.6 123.8 L1376.1 118.6 M1348.1 151.1 L1389.6 156.1 M1375.2 158.2 L1389.6 156.1 L1376.1 150.7 M1348.1 182.7 L1389.6 187.7 M1375.2 189.8 L1389.6 187.7 L1376.1 182.3 M1348.1 214.3 L1389.1 220.1 M1374.8 221.8 L1389.1 220.1 L1375.9 214.4 M1348.1 245.9 L1388.8 252.4 M1374.6 253.9 L1388.8 252.4 L1375.8 246.5 M1348.1 277.5 L1387.6 284.3 M1373.7 285.6 L1387.6 284.3 L1375 278.4 M1348.1 309.1 L1355 311.6 M1352.5 311.4 L1355 311.6 L1352.9 310.1 M1511.5 119.5 L1552.3 123.8 M1538.2 126 L1552.3 123.8 L1539 118.6 M1511.5 151.1 L1552 155.9 M1538 157.9 L1552 155.9 L1538.9 150.6 M1511.5 182.7 L1552 187.2 M1538 189.4 L1552 187.2 L1538.8 182 M1511.5 214.3 L1552 219.3 M1538 221.3 L1552 219.3 L1538.9 214 M1511.5 245.9 L1552 250.4 M1538 252.6 L1552 250.4 L1538.8 245.2 M1511.5 277.5 L1551.7 282.3 M1537.8 284.3 L1551.7 282.3 L1538.7 277 M1511.5 309.1 L1540.2 312.4 M1530.3 313.9 L1540.2 312.4 L1530.9 308.7 M1511.5 340.7 L1516.5 341.5 M1514.7 341.6 L1516.5 341.5 L1514.9 340.8 M1511.5 372.3 L1506.7 370.3 M1508.5 370.5 L1506.7 370.3 L1508.1 371.4 M1674.9 119.5 L1714.9 123 M1701.2 125.5 L1714.9 123 L1701.8 118.2 M1674.9 151.1 L1714.4 154.9 M1700.8 157.2 L1714.4 154.9 L1701.5 150 M1674.9 182.7 L1714.4 186.5 M1700.8 188.8 L1714.4 186.5 L1701.5 181.6 M1674.9 214.3 L1714.4 218.6 M1700.8 220.7 L1714.4 218.6 L1701.6 213.6 M1674.9 245.9 L1714.2 249.9 M1700.7 252.1 L1714.2 249.9 L1701.4 245 M1674.9 277.5 L1714.2 281.8 M1700.6 283.9 L1714.2 281.8 L1701.4 276.8 M1674.9 309.1 L1710.4 312.4 M1698.2 314.5 L1710.4 312.4 L1698.8 308.1 M1674.9 340.7 L1690.4 342 M1685.1 342.9 L1690.4 342 L1685.3 340.1 M1674.9 372.3 L1673.4 371.8 M1673.9 371.8 L1673.4 371.8 L1673.8 372.1 M1674.9 403.9 L1668.6 401.3 M1671 401.6 L1668.6 401.3 L1670.5 402.7 M1674.9 435.5 L1667.9 432.6 M1670.5 432.9 L1667.9 432.6 L1670 434.2"/>
<path class="ks" d="M1422.6 331.3 C1425.1 331 1430.1 330 1437.6 329.6 C1445.1 329.2 1456.4 328.7 1467.7 328.8 C1478.9 329 1492.7 329.3 1505.2 330.6 C1517.7 331.8 1530.2 334.5 1542.7 336.3 C1555.3 338.1 1567.8 339.8 1580.3 341.3 C1592.8 342.9 1605.3 344.2 1617.8 345.6 C1630.3 347 1642.9 348.1 1655.4 349.6 C1667.9 351.1 1680.4 353.2 1692.9 354.6 C1705.4 356 1717.3 357 1730.5 358.1 C1743.6 359.2 1763.4 360.7 1771.7 361.4 C1780.1 362 1779 362 1780.5 362.1"/>
<path class="kd" d="M1430.1 331.3 C1435.1 332.2 1445.5 333.8 1460.1 336.3 C1474.7 338.9 1498.1 343.5 1517.7 346.6 C1537.3 349.7 1563.2 353.3 1577.8 355.1 C1592.4 356.9 1595.7 356.5 1605.3 357.6 C1614.9 358.7 1620.3 359.3 1635.3 361.9 C1650.4 364.5 1675.8 369.6 1695.4 373.1 C1715 376.7 1738.8 380.6 1753 383.1 C1767.2 385.6 1775.9 387.3 1780.5 388.1" stroke-dashoffset="7.6"/>
<path class="rd" d="M1067.1 95 C1067.3 98.3 1067.5 106.9 1067.9 115 C1068.2 123.2 1068.2 134 1069.1 143.8 C1070 153.6 1071.8 164.2 1073.4 173.8 C1075 183.5 1076.4 193.5 1078.6 201.9 C1080.9 210.2 1085.3 220.2 1086.6 223.9"/>
<path class="rd" d="M1230.6 95 C1230.6 99.4 1230.6 109.6 1230.8 121.3 C1231 133 1231.4 149.4 1231.8 165.1 C1232.2 180.7 1232.6 201.8 1233.1 215.1 C1233.5 228.5 1234.2 238.1 1234.3 245.2 C1234.4 252.3 1235 253.1 1233.8 257.7 C1232.6 262.3 1228.4 270.2 1227.3 272.7"/>
<path class="rd" d="M1389.6 95 C1389.6 110.9 1389.7 163.8 1389.6 190.1 C1389.5 216.4 1389.2 238.1 1389.1 252.7 C1388.9 267.3 1389.4 271.7 1388.6 277.7 C1387.7 283.8 1387.1 285.2 1383.8 289 C1380.5 292.7 1373.6 296.4 1368.8 300.2 C1364 304.1 1357.3 310.2 1355 312.3"/>
<path class="rd" d="M1552.3 95 C1552.2 110.9 1552.1 160.9 1552 190.1 C1551.9 219.3 1551.8 255.2 1551.7 270.2 C1551.7 285.2 1551.8 277 1551.7 280 C1551.6 283 1551.8 285.7 1551.4 288.5 C1551 291.3 1550.3 294.1 1549.2 296.9 C1548.1 299.7 1546.4 302.8 1545 305.4 C1543.6 307.9 1543.4 309.4 1540.7 312.2 C1538 315 1532.2 319.2 1528.9 322.3 C1525.7 325.4 1524.2 327.1 1521.2 330.8 C1518.2 334.5 1513.6 340.4 1511.1 344.3 C1508.6 348.2 1507 351.1 1506 354.5 C1505 357.9 1505.2 362.1 1505.2 364.6 C1505.2 367.1 1505.9 368.9 1506 369.7"/>
<path class="rd" d="M1714.9 95 C1714.9 110.9 1714.8 160.9 1714.7 190.1 C1714.6 219.3 1714.4 255.2 1714.4 270.2 C1714.4 285.2 1714.7 275.6 1714.7 280 C1714.7 284.4 1715 291.5 1714.2 296.9 C1713.4 302.3 1711.8 308 1710 312.2 C1708.2 316.4 1706.3 317.8 1703.2 322.3 C1700.1 326.8 1694.9 333.9 1691.4 339.3 C1687.9 344.7 1684.9 349.7 1682.1 354.5 C1679.3 359.3 1676.5 363.5 1674.5 368 C1672.5 372.5 1671.2 376.5 1670.2 381.6 C1669.2 386.7 1668.9 392.9 1668.5 398.5 C1668.1 404.1 1667.8 409.5 1667.7 415.4 C1667.6 421.3 1667.7 430.9 1667.7 434"/>
<circle cx="1183.6" cy="327.8" r="7.4" fill="none" stroke="#000" stroke-width="1.7"/>
<path d="M1061.6 294.4 V260.9" stroke="#000" stroke-width="1.7" fill="none"/>
<path d="M1061.6 248.9 L1071.6 274.4 L1061.6 266.9 L1051.6 274.4Z" fill="#000"/>
</g>
<path class="tk" d="M987.3 520 v-8.8 M987.3 96.2 v8.8 M1150.7 520 v-8.8 M1150.7 96.2 v8.8 M1314.2 520 v-8.8 M1314.2 96.2 v8.8 M1477.6 520 v-8.8 M1477.6 96.2 v8.8 M1641.1 520 v-8.8 M1641.1 96.2 v8.8 M954.6 519.6 h8.8 M1771.8 519.6 h-8.8 M954.6 438.1 h8.8 M1771.8 438.1 h-8.8 M954.6 356.5 h8.8 M1771.8 356.5 h-8.8 M954.6 275 h8.8 M1771.8 275 h-8.8 M954.6 193.5 h8.8 M1771.8 193.5 h-8.8 M954.6 111.9 h8.8 M1771.8 111.9 h-8.8"/>
<rect class="fr" x="954.6" y="96.2" width="817.2" height="423.8"/>
<text y="474" style="font-size:38px;letter-spacing:0"><tspan class="b" x="967.1" style="letter-spacing:2.4px">(b)</tspan><tspan class="m" x="1026.6">α</tspan><tspan x="1058.8" textLength="31.7" lengthAdjust="spacingAndGlyphs">=</tspan><tspan x="1100.7" style="letter-spacing:0.8px">15</tspan><tspan x="1138.8" y="473.2" style="font-size:36px">°</tspan></text>
</g>
<g id="panel-c">
<g clip-path="url(#cpc)">
<g clip-path="url(#cfc)">
<path d="M236 742.1 L236 690 C238 688.3 243.7 683.4 248 680 C252.3 676.6 254.3 673.9 262 669.5 C269.7 665.1 279.6 658.1 294.2 653.9 C308.8 649.7 335 647.2 349.3 644.4 C363.6 641.6 371.6 639.2 380 637.2 C388.4 635.2 377.8 636.8 400 632.5 C422.2 628.2 479.7 617 513 611.7 C546.3 606.4 572.9 604.9 600 600.5 C627.1 596.1 651.8 588.4 675.7 585.3 C699.6 582.1 716.1 583.3 743.3 581.6 C770.5 579.9 806.8 577.2 838.9 575.3 C871 573.4 918.3 571.2 936 570.3 C953.7 569.4 943.5 570 945 570 L944.1 570 L944.1 1044.2 L939 937.1 Z" fill="#f5f5ff"/>
<path d="M240 743.2 L240 690 C241.7 688.7 246 685.1 250 682 C254 678.9 256.6 675.8 264 671.5 C271.4 667.2 280 660.2 294.2 656.1 C308.4 652 335 649.3 349.3 647.1 C363.6 644.9 371.6 644.2 380 642.7 C388.4 641.2 377.8 640.8 400 638 C422.2 635.2 479.7 629.4 513 626 C546.3 622.6 572.9 619.9 600 617.9 C627.1 615.9 651.8 615.6 675.7 614.1 C699.6 612.6 716.1 609.9 743.3 609.1 C770.5 608.3 806.8 609.1 838.9 609.1 C871 609.1 918.3 609.1 936 609.1 C953.7 609.1 943.5 609.1 945 609.1 L944.1 609.1 L944.1 1044.2 L939 937.1 Z" fill="#d7d7fd"/>
<path d="M243 744.1 L243 690 C244.5 688.9 248.2 686.3 252 683.5 C255.8 680.7 259 676.9 266 673 C273 669.1 280.3 663.8 294.2 660 C308.1 656.2 335 652.6 349.3 650.2 C363.6 647.8 371.6 646.8 380 645.5 C388.4 644.2 388.3 643.9 400 642.5 C411.7 641.1 431.2 638.8 450 637.2 C468.8 635.6 488 634 513 632.8 C538 631.5 572.9 630.1 600 629.7 C627.1 629.3 651.8 630.3 675.7 630.4 C699.6 630.5 716.1 629.9 743.3 630.4 C770.5 630.9 806.8 632.1 838.9 633.6 C871 635.1 918.3 638.5 936 639.6 C953.7 640.7 943.5 640.1 945 640.2 L944.1 640.2 L944.1 1044.2 L939 937.1 Z" fill="#b6b6fc"/>
<path d="M243.6 744.2 L243.6 688 C245.5 687.2 250.6 685.1 255 683 C259.4 680.9 263.5 678.5 270 675.5 C276.5 672.5 281 668.3 294.2 665.1 C307.4 661.9 331.7 657.9 349.3 656.1 C366.9 654.3 372.7 655.2 400 654.3 C427.3 653.4 479.7 651.8 513 650.8 C546.3 649.8 572.9 647.8 600 648.3 C627.1 648.8 651.8 652.6 675.7 654.1 C699.6 655.6 716.1 655 743.3 657.1 C770.5 659.2 806.8 663.3 838.9 666.6 C871 669.9 918.3 674.9 936 676.7 C953.7 678.5 943.5 677.5 945 677.6 L944.1 677.6 L944.1 1044.2 L939 937.1 Z" fill="#9595fa"/>
<path d="M262.6 749.5 L262.6 686 C266.3 685.2 276.8 682.6 285 681.4 C293.2 680.2 301.3 679.2 312 678.7 C322.7 678.2 334.6 678.9 349.3 678.7 C364 678.6 372.8 676.9 400 677.8 C427.2 678.7 480.2 681.5 512.4 684.2 C544.6 686.9 565.8 690 593 694.2 C620.2 698.4 650.7 704.2 675.7 709.2 C700.8 714.2 716.1 718.4 743.3 724.2 C770.5 730 806.8 734.2 838.9 744.2 C871 754.2 918.3 777 936 784.3 C953.7 791.6 943.5 787.4 945 788 L944.1 788 L944.1 1044.2 L939 937.1 Z" fill="#b6b6fc"/>
<path d="M529.3 749.1 C533.7 748.3 544.9 744.3 555.6 744.5 C566.2 744.8 578.5 747.3 593.1 750.3 C607.7 753.3 626.5 757.6 643.2 762.8 C659.9 768 678.6 774.7 693.2 781.6 C707.8 788.5 720.3 796.2 730.8 804.1 C741.2 812 750.5 822.9 755.8 829.1 C761.1 835.4 762.4 837.1 762.8 841.7 C763.2 846.2 765.7 854.6 758.3 856.7 C750.9 858.8 737.4 860.8 718.3 854.2 C699.1 847.5 668.2 829.1 643.2 816.6 C618.1 804.1 587.1 790.3 568.1 779.1 C549.1 767.8 535.8 754.1 529.3 749.1Z" fill="#d7d7fd"/>
<path d="M906 919.7 L936 899.7 L943.5 896.7 L943.5 939.3Z" fill="#9595fa"/>
</g>
<path d="M232 694.2 L283.5 694.2 L288.3 699 L312.8 699 L317.6 703.8 L337.1 703.8 L341.9 708.6 L358.4 708.6 L363.2 713.4 L377.7 713.4 L382.5 718.2 L396 718.2 L400.8 723 L413.3 723 L418.1 727.8 L430.1 727.8 L434.9 732.6 L445.9 732.6 L450.7 737.4 L461.2 737.4 L466 742.2 L476.5 742.2 L481.3 747 L490.8 747 L495.6 751.8 L505.1 751.8 L509.9 756.6 L519.4 756.6 L524.2 761.4 L532.7 761.4 L537.5 766.2 L546.5 766.2 L551.3 771 L559.8 771 L564.6 775.8 L572.6 775.8 L577.4 780.6 L585.4 780.6 L590.2 785.4 L598.2 785.4 L603 790.2 L611 790.2 L615.8 795 L623.3 795 L628.1 799.8 L635.6 799.8 L640.4 804.6 L647.9 804.6 L652.7 809.4 L659.7 809.4 L664.5 814.2 L672 814.2 L676.8 819 L683.8 819 L688.6 823.8 L695.6 823.8 L700.4 828.6 L706.9 828.6 L711.7 833.4 L718.7 833.4 L723.5 838.2 L730 838.2 L734.8 843 L741.8 843 L746.6 847.8 L753.1 847.8 L757.9 852.6 L763.9 852.6 L768.7 857.4 L775.2 857.4 L780 862.2 L786.5 862.2 L791.3 867 L797.3 867 L802.1 871.8 L808.1 871.8 L812.9 876.6 L818.9 876.6 L823.7 881.4 L829.7 881.4 L834.5 886.2 L840.5 886.2 L845.3 891 L851.3 891 L856.1 895.8 L861.6 895.8 L866.4 900.6 L871.9 900.6 L876.7 905.4 L882.7 905.4 L887.5 910.2 L893 910.2 L897.8 915 L902.8 915 L907.6 919.8 L913.1 919.8 L917.9 924.6 L923.4 924.6 L928.2 929.4 L933.2 929.4 L938 934.2 L946.5 934.2 L951.3 939 L951.3 938.1 L945.3 938.1 L939.3 938.1 L933.3 935.3 L927.3 932.5 L921.3 929.6 L915.3 926.7 L909.3 923.9 L903.3 921.1 L897.3 918.2 L891.3 915.4 L885.3 912.6 L879.3 909.9 L873.3 907.1 L867.3 904.3 L861.3 901.6 L855.3 898.9 L849.3 896.1 L843.3 893.4 L837.3 890.7 L831.3 888 L825.3 885.3 L819.3 882.7 L813.3 880 L807.3 877.3 L801.3 874.7 L795.3 872.1 L789.3 869.4 L783.3 866.8 L777.3 864.2 L771.3 861.6 L765.3 859.1 L759.3 856.5 L753.3 853.9 L747.3 851.4 L741.3 848.8 L735.3 846.3 L729.3 843.8 L723.3 841.2 L717.3 838.7 L711.3 836.2 L705.3 833.8 L699.3 831.3 L693.3 828.8 L687.3 826.4 L681.3 823.9 L675.3 821.5 L669.3 819.1 L663.3 816.7 L657.3 814.3 L651.3 811.9 L645.3 809.5 L639.3 807.1 L633.3 804.8 L627.3 802.4 L621.3 800.1 L615.3 797.8 L609.3 795.5 L603.3 793.2 L597.3 790.9 L591.3 788.6 L585.3 786.4 L579.3 784.1 L573.3 781.9 L567.3 779.7 L561.3 777.5 L555.3 775.3 L549.3 773.1 L543.3 771 L537.3 768.9 L531.3 766.7 L525.3 764.6 L519.3 762.5 L513.3 760.5 L507.3 758.4 L501.3 756.4 L495.3 754.3 L489.3 752.3 L483.3 750.4 L477.3 748.4 L471.3 746.5 L465.3 744.5 L459.3 742.6 L453.3 740.8 L447.3 738.9 L441.3 737.1 L435.3 735.3 L429.3 733.5 L423.3 731.7 L417.3 730 L411.3 728.3 L405.3 726.6 L399.3 725 L393.3 723.3 L387.3 721.8 L381.3 720.2 L375.3 718.7 L369.3 717.2 L363.3 715.7 L357.3 714.3 L351.3 712.9 L345.3 711.5 L339.3 710.2 L333.3 708.9 L327.3 707.7 L321.3 706.5 L315.3 705.3 L309.3 704.2 L303.3 703.2 L297.3 702.2 L291.3 701.2 L285.3 700.3 L279.3 699.5 L273.3 698.7 L267.3 698 L261.3 697.4 L255.3 696.8 L249.3 696.3 L243.3 695.9 L237.3 695.6 L232 695.4Z" fill="#fff"/>
<path class="af" d="M153.3 719.2 L153.7 718.1 L154.1 717 L154.5 715.9 L155.1 714.8 L155.7 713.8 L156.4 712.8 L157.1 711.8 L157.9 710.8 L158.8 709.9 L159.7 709 L160.7 708.1 L161.8 707.3 L162.9 706.5 L164.1 705.7 L165.4 704.9 L166.7 704.1 L168.1 703.4 L169.6 702.7 L171.1 702 L172.7 701.4 L174.3 700.8 L176 700.2 L177.8 699.6 L179.6 699.1 L181.5 698.6 L183.4 698.1 L185.4 697.7 L187.5 697.2 L189.6 696.8 L191.8 696.5 L194.1 696.1 L196.4 695.8 L198.7 695.5 L201.1 695.3 L203.6 695.1 L206.2 694.9 L208.8 694.7 L211.4 694.6 L214.1 694.4 L216.9 694.4 L219.7 694.3 L222.6 694.3 L225.5 694.3 L228.5 694.3 L231.5 694.4 L234.6 694.5 L237.7 694.6 L240.9 694.8 L244.1 695 L247.4 695.2 L250.7 695.4 L254.1 695.7 L257.5 696 L261 696.3 L264.5 696.7 L268.1 697.1 L271.7 697.5 L275.4 698 L279.1 698.5 L282.8 699 L286.6 699.5 L290.5 700.1 L294.3 700.7 L298.2 701.3 L302.2 702 L306.2 702.7 L310.2 703.4 L314.3 704.1 L318.4 704.9 L322.6 705.7 L326.7 706.6 L331 707.4 L335.2 708.3 L339.5 709.2 L343.8 710.2 L348.2 711.2 L352.6 712.2 L357 713.2 L361.4 714.2 L365.9 715.3 L370.4 716.4 L375 717.6 L379.5 718.7 L384.1 719.9 L388.7 721.1 L393.4 722.4 L398 723.6 L402.7 724.9 L407.4 726.2 L412.2 727.5 L416.9 728.9 L421.7 730.3 L426.5 731.7 L431.3 733.1 L436.1 734.5 L441 736 L445.9 737.5 L450.7 739 L455.6 740.5 L460.6 742 L465.5 743.6 L470.4 745.2 L475.4 746.8 L480.3 748.4 L485.3 750 L490.3 751.7 L495.3 753.3 L500.3 755 L505.3 756.7 L510.3 758.4 L515.3 760.1 L520.3 761.9 L525.4 763.6 L530.4 765.4 L535.4 767.2 L540.4 769 L545.5 770.8 L550.5 772.6 L555.5 774.4 L560.6 776.2 L565.6 778.1 L570.6 779.9 L575.6 781.8 L580.7 783.6 L585.7 785.5 L590.7 787.4 L595.7 789.3 L600.7 791.2 L605.6 793.1 L610.6 795 L615.6 796.9 L620.5 798.8 L625.4 800.7 L630.4 802.6 L635.3 804.5 L640.2 806.5 L645 808.4 L649.9 810.3 L654.7 812.2 L659.6 814.2 L664.4 816.1 L669.1 818 L673.9 819.9 L678.7 821.9 L683.4 823.8 L688.1 825.7 L692.8 827.6 L697.4 829.5 L702 831.4 L706.6 833.3 L711.2 835.2 L715.8 837.1 L720.3 839 L724.8 840.9 L729.3 842.7 L733.7 844.6 L738.1 846.5 L742.5 848.3 L746.8 850.2 L751.1 852 L755.4 853.8 L759.6 855.6 L763.8 857.4 L768 859.2 L772.1 861 L776.2 862.8 L780.3 864.5 L784.3 866.3 L788.3 868 L792.2 869.7 L796.1 871.4 L800 873.1 L803.8 874.8 L807.6 876.5 L811.3 878.1 L815 879.7 L818.6 881.3 L822.2 883 L825.8 884.5 L829.3 886.1 L832.7 887.7 L836.1 889.2 L839.5 890.7 L842.8 892.2 L846.1 893.7 L849.3 895.1 L852.5 896.6 L855.6 898 L858.7 899.4 L861.7 900.8 L864.7 902.1 L867.6 903.5 L870.4 904.8 L873.2 906.1 L876 907.3 L878.7 908.6 L881.3 909.8 L883.9 911 L886.5 912.2 L889 913.3 L891.4 914.5 L893.7 915.6 L896.1 916.7 L898.3 917.7 L900.5 918.7 L902.6 919.8 L904.7 920.7 L906.7 921.7 L908.7 922.6 L910.6 923.5 L912.5 924.4 L914.2 925.2 L916 926 L917.6 926.8 L919.2 927.6 L920.8 928.3 L922.3 929 L923.7 929.7 L925 930.4 L926.3 931 L927.6 931.6 L928.7 932.1 L929.8 932.7 L930.9 933.2 L931.9 933.6 L932.8 934.1 L933.7 934.5 L934.5 934.9 L935.2 935.2 L935.9 935.6 L936.5 935.9 L937 936.1 L937.5 936.4 L937.9 936.6 L938.2 936.7 L938.5 936.9 L938.8 937 L938.9 937 L939 937.1 L939 937.1 L939 937.1 L939 937.1 L938.9 937.1 L938.7 937.1 L938.5 937.1 L938.2 937 L937.8 937 L937.3 937 L936.8 936.9 L936.2 936.9 L935.5 936.8 L934.8 936.7 L934 936.7 L933.1 936.6 L932.1 936.5 L931.1 936.4 L930 936.3 L928.9 936.2 L927.6 936.1 L926.3 936 L925 935.9 L923.5 935.7 L922 935.6 L920.5 935.4 L918.8 935.3 L917.1 935.1 L915.4 935 L913.5 934.8 L911.6 934.6 L909.7 934.4 L907.6 934.2 L905.5 934 L903.4 933.8 L901.1 933.6 L898.9 933.4 L896.5 933.2 L894.1 932.9 L891.6 932.7 L889.1 932.4 L886.5 932.2 L883.8 931.9 L881.1 931.6 L878.3 931.3 L875.5 931 L872.6 930.7 L869.6 930.4 L866.6 930.1 L863.5 929.8 L860.4 929.4 L857.2 929.1 L853.9 928.7 L850.6 928.4 L847.3 928 L843.9 927.6 L840.4 927.2 L836.9 926.8 L833.3 926.4 L829.7 926 L826 925.6 L822.3 925.2 L818.6 924.7 L814.7 924.3 L810.9 923.8 L807 923.4 L803 922.9 L799 922.4 L794.9 921.9 L790.9 921.4 L786.7 920.9 L782.5 920.4 L778.3 919.8 L774 919.3 L769.7 918.7 L765.4 918.2 L761 917.6 L756.6 917 L752.1 916.4 L747.6 915.8 L743.1 915.2 L738.5 914.6 L733.9 914 L729.3 913.4 L724.6 912.7 L719.9 912.1 L715.2 911.4 L710.4 910.7 L705.6 910 L700.8 909.4 L695.9 908.7 L691.1 907.9 L686.2 907.2 L681.2 906.5 L676.3 905.8 L671.3 905 L666.3 904.3 L661.3 903.5 L656.2 902.7 L651.2 901.9 L646.1 901.1 L641 900.3 L635.9 899.5 L630.8 898.7 L625.6 897.9 L620.4 897 L615.3 896.2 L610.1 895.3 L604.9 894.4 L599.7 893.6 L594.5 892.7 L589.2 891.8 L584 890.9 L578.8 890 L573.5 889 L568.3 888.1 L563 887.2 L557.7 886.2 L552.5 885.2 L547.2 884.3 L542 883.3 L536.7 882.3 L531.4 881.3 L526.2 880.3 L520.9 879.3 L515.7 878.2 L510.4 877.2 L505.2 876.1 L500 875.1 L494.7 874 L489.5 872.9 L484.3 871.8 L479.1 870.7 L474 869.6 L468.8 868.5 L463.6 867.4 L458.5 866.2 L453.4 865.1 L448.3 863.9 L443.2 862.8 L438.1 861.6 L433.1 860.4 L428.1 859.2 L423 858 L418.1 856.8 L413.1 855.6 L408.2 854.3 L403.3 853.1 L398.4 851.9 L393.5 850.6 L388.7 849.3 L383.9 848 L379.1 846.8 L374.4 845.5 L369.7 844.1 L365 842.8 L360.3 841.5 L355.7 840.2 L351.1 838.8 L346.6 837.5 L342.1 836.1 L337.6 834.8 L333.2 833.4 L328.8 832 L324.4 830.6 L320.1 829.2 L315.8 827.8 L311.6 826.4 L307.4 825 L303.3 823.6 L299.2 822.1 L295.1 820.7 L291.1 819.2 L287.1 817.8 L283.2 816.3 L279.3 814.9 L275.5 813.4 L271.7 811.9 L268 810.4 L264.3 808.9 L260.7 807.5 L257.1 806 L253.6 804.5 L250.1 803 L246.7 801.5 L243.3 800 L240 798.4 L236.7 796.9 L233.5 795.4 L230.4 793.9 L227.3 792.4 L224.3 790.9 L221.3 789.3 L218.4 787.8 L215.5 786.3 L212.7 784.8 L209.9 783.2 L207.3 781.7 L204.6 780.2 L202.1 778.7 L199.6 777.2 L197.1 775.7 L194.7 774.1 L192.4 772.6 L190.2 771.1 L188 769.6 L185.8 768.1 L183.8 766.6 L181.8 765.1 L179.8 763.7 L178 762.2 L176.1 760.7 L174.4 759.2 L172.7 757.8 L171.1 756.3 L169.6 754.9 L168.1 753.4 L166.7 752 L165.3 750.6 L164 749.1 L162.8 747.7 L161.7 746.3 L160.6 744.9 L159.6 743.5 L158.6 742.2 L157.7 740.8 L156.9 739.4 L156.2 738.1 L155.5 736.8 L154.9 735.4 L154.4 734.1 L153.9 732.8 L153.5 731.5 L153.2 730.2 L152.9 729 L152.7 727.7 L152.6 726.4 L152.5 725.2 L152.6 724 L152.6 722.8 L152.8 721.6 L153 720.4 L153.3 719.2Z"/>
<path class="dd" d="M186.6 538.9 V697.4"/>
<path class="dd" d="M349.3 538.9 V711.4"/>
<path class="dd" d="M512.4 538.9 V759.2"/>
<path class="dd" d="M675.7 538.9 V820.7"/>
<path class="dd" d="M838.9 538.9 V890.4"/>
<path class="ar" d="M186.6 545.3 L222.6 538 M211.2 543.7 L222.6 538 L209.9 537.2 M186.6 576.9 L224.6 566.9 M212.8 573.7 L224.6 566.9 L211 566.8 M186.6 608.5 L224.6 597.2 M212.9 604.4 L224.6 597.2 L210.9 597.6 M186.6 640.1 L224.6 627.6 M213 635.2 L224.6 627.6 L210.7 628.3 M186.6 671.7 L225.1 655.9 M213.6 664.7 L225.1 655.9 L210.8 657.7 M349.3 545.3 L387.8 540.3 M375.4 545.5 L387.8 540.3 L374.5 538.5 M349.3 576.9 L391.6 570.6 M378 576.6 L391.6 570.6 L376.8 568.9 M349.3 608.5 L392.3 601.7 M378.5 607.9 L392.3 601.7 L377.3 600.1 M349.3 640.1 L382.8 636.3 M371.9 640.6 L382.8 636.3 L371.2 634.6 M349.3 671.7 L351.5 670.4 M350.9 671.1 L351.5 670.4 L350.7 670.7 M349.3 703.3 L340.2 700.8 M343.5 700.8 L340.2 700.8 L343.1 702.5 M512.4 545.3 L555.6 541.5 M541.4 546.7 L555.6 541.5 L540.8 538.9 M512.4 576.9 L555.6 573.1 M541.4 578.3 L555.6 573.1 L540.8 570.5 M512.4 608.5 L546.3 606.7 M535.1 610.4 L546.3 606.7 L534.8 604.3 M512.4 640.1 L526.8 638.1 M522.1 640.1 L526.8 638.1 L521.8 637.5 M512.4 671.7 L510.5 670.4 M511.3 670.7 L510.5 670.4 L511 671 M512.4 703.3 L501.8 698.8 M505.7 699.4 L501.8 698.8 L504.9 701.3 M512.4 734.9 L498 728.9 M503.4 729.6 L498 728.9 L502.3 732.2 M675.7 545.3 L718.3 544.5 M704.1 548.6 L718.3 544.5 L703.9 541 M675.7 576.9 L710.7 576.9 M699 580.1 L710.7 576.9 L699 573.7 M675.7 608.5 L700.2 608.5 M692 610.7 L700.2 608.5 L692 606.3 M675.7 640.1 L688.2 639.6 M684.1 640.9 L688.2 639.6 L684 638.6 M675.7 671.7 L677.5 671.2 M676.9 671.5 L677.5 671.2 L676.8 671.2 M675.7 703.3 L669.4 700.7 M671.8 701 L669.4 700.7 L671.3 702.1 M675.7 734.9 L665.7 730.7 M669.4 731.2 L665.7 730.7 L668.7 733 M675.7 766.5 L661.9 760.7 M667.1 761.4 L661.9 760.7 L666 763.9 M675.7 798.1 L659.4 791.3 M665.5 792.1 L659.4 791.3 L664.3 795 M838.9 545.3 L877.2 546.1 M864.3 549.3 L877.2 546.1 L864.4 542.3 M838.9 576.9 L870.9 578.9 M860 581.1 L870.9 578.9 L860.4 575.3 M838.9 608.5 L863.9 609.8 M855.4 611.6 L863.9 609.8 L855.6 607.1 M838.9 640.1 L853.4 641.4 M848.4 642.2 L853.4 641.4 L848.7 639.6 M838.9 671.7 L845.9 672.5 M843.5 672.8 L845.9 672.5 L843.6 671.6 M838.9 703.3 L839.6 702.8 M839.4 703 L839.6 702.8 L839.3 702.9 M838.9 734.9 L834.6 733.1 M836.2 733.3 L834.6 733.1 L835.9 734.1 M838.9 766.5 L829.6 762.6 M833.1 763.1 L829.6 762.6 L832.4 764.7 M838.9 798.1 L827.9 793.5 M832 794 L827.9 793.5 L831.2 796 M838.9 829.7 L826.4 824.4 M831 825.1 L826.4 824.4 L830.1 827.3 M838.9 861.3 L825.9 855.8 M830.7 856.5 L825.9 855.8 L829.7 858.8"/>
<path class="ks" d="M251.3 684.6 C251.7 683.8 251.6 681.7 253.5 680 C255.4 678.3 258.8 676.2 262.6 674.2 C266.4 672.2 270.8 670 276.1 667.9 C281.4 665.8 288.2 663.2 294.2 661.5 C300.2 659.8 306.2 658.7 312.2 657.5 C318.2 656.3 324.1 655.3 330.3 654.3 C336.5 653.2 341.8 652.5 349.3 651.2 C356.8 649.9 366.9 648 375.4 646.6 C383.8 645.2 391 644.4 400 643 C409 641.6 416.4 640.3 429.6 638.4 C442.8 636.5 465.4 633.3 479.3 631.6 C493.2 629.9 500.6 629.2 513 628.2 C525.4 627.2 539.2 626.3 553.7 625.7 C568.2 625.1 585 624.9 599.9 624.5 C614.8 624.1 627.6 623.4 643.2 623.1 C658.7 622.8 676.5 622.8 693.2 622.8 C709.9 622.9 726.6 623.1 743.3 623.6 C760 624.1 776.7 624.9 793.3 626.1 C810 627.4 826.7 629.1 843.4 631.1 C860.1 633.1 878 635.7 893.5 637.9 C908.9 640 927.7 642.9 936 644.1 C944.3 645.4 942.3 645.2 943.5 645.4"/>
<path class="kd" d="M251.3 684.6 C253 683.5 256.4 680.1 261.7 678.2 C267 676.3 274.8 674.6 283.3 673.1 C291.8 671.6 302.9 670.3 312.7 669.2 C322.5 668.1 332.1 667.3 342 666.5 C351.9 665.7 361.9 665 371.8 664.4 C381.8 663.8 391.9 663.4 401.7 663 C411.5 662.6 421.1 662.4 430.9 662.3 C440.7 662.2 450.8 662.1 460.7 662.2 C470.6 662.3 480.5 662.7 490.4 663 C500.3 663.3 510.3 663.6 520.2 664.1 C530.1 664.6 540.1 665 550 665.7 C559.9 666.4 564.3 667.2 579.8 668.4 C595.3 669.6 620.1 670.6 643.2 673.2 C666.2 675.7 693.2 680 718.3 683.7 C743.3 687.4 768.3 691.6 793.3 695.4 C818.4 699.3 844.6 702.8 868.4 706.7 C892.2 710.6 923.5 716.5 936 718.7 C948.5 721 942.3 720 943.5 720.2" stroke-dashoffset="2.6"/>
<path class="rd" d="M225.1 534 C225.1 544.4 225 579.9 225.1 596.6 C225.2 613.3 225.4 624.5 225.6 634.1 C225.8 643.7 226.1 648.5 226.4 654.1 C226.6 659.8 227 665.6 227.1 667.9"/>
<path class="rd" d="M391.8 534 C391.9 540.3 392.1 559.9 392.3 571.5 C392.6 583.2 393.2 596.6 393.3 604.1 C393.4 611.6 394.1 611.8 392.8 616.6 C391.5 621.4 389.5 627.6 385.3 632.9 C381.1 638.1 373.2 643.3 367.8 647.9 C362.4 652.5 356.9 656 352.8 660.4 C348.6 664.8 345 669.8 342.8 674.2 C340.5 678.5 339.5 682.9 339 686.7 C338.5 690.4 339.2 693.4 339.7 696.7 C340.3 699.9 341.8 704.6 342.3 706.2"/>
<path class="rd" d="M557.6 534 C557.4 540.3 557.8 561.1 556.8 571.5 C555.9 582 554.1 589.5 551.8 596.6 C549.5 603.7 547 607.4 543.1 614.1 C539.1 620.8 532.8 629.1 528 636.6 C523.2 644.1 518 652 514.3 659.1 C510.5 666.2 507.8 671.7 505.5 679.2 C503.2 686.7 501.8 695.8 500.5 704.2 C499.3 712.5 498.4 721.3 498 729.2 C497.6 737.1 498 748 498 751.7"/>
<path class="rd" d="M719.5 534 C718.9 538.2 717.2 551.5 715.8 559 C714.3 566.5 713.2 570.7 710.7 579.1 C708.2 587.4 704.1 599.5 700.7 609.1 C697.4 618.7 694.1 627.9 690.7 636.6 C687.4 645.4 683.6 653.7 680.7 661.6 C677.8 669.6 675.3 676.2 673.2 684.2 C671.1 692.1 669.7 700.9 668.2 709.2 C666.7 717.5 665.6 725 664.4 734.2 C663.3 743.4 662 754.2 661.2 764.3 C660.4 774.3 659.8 786.5 659.4 794.3 C659.1 802.1 659 808.3 658.9 811.1"/>
<path class="rd" d="M880.4 534 C879.3 540.3 875.8 559.9 873.4 571.5 C871 583.2 868.6 593.7 865.9 604.1 C863.2 614.5 860.1 624.1 857.2 634.1 C854.2 644.1 851.1 653.7 848.4 664.1 C845.7 674.6 843.2 685.8 840.9 696.7 C838.6 707.5 836.5 718.4 834.6 729.2 C832.8 740.1 830.9 750.9 829.6 761.8 C828.4 772.6 827.8 783.9 827.1 794.3 C826.5 804.7 826.2 814.2 825.9 824.1 C825.6 834.1 825.5 844.4 825.4 854.2 C825.3 864 825.4 878.2 825.4 883"/>
<circle cx="348.7" cy="773.7" r="7.4" fill="none" stroke="#000" stroke-width="1.7"/>
<path d="M227.1 739.7 V706.2" stroke="#000" stroke-width="1.7" fill="none"/>
<path d="M227.1 694.2 L237.1 719.7 L227.1 712.2 L217.1 719.7Z" fill="#000"/>
</g>
<path class="tk" d="M153.3 964.2 v-8.8 M153.3 539.6 v8.8 M316.4 964.2 v-8.8 M316.4 539.6 v8.8 M479.5 964.2 v-8.8 M479.5 539.6 v8.8 M642.5 964.2 v-8.8 M642.5 539.6 v8.8 M805.6 964.2 v-8.8 M805.6 539.6 v8.8 M120.6 963.8 h8.8 M936.1 963.8 h-8.8 M120.6 882.3 h8.8 M936.1 882.3 h-8.8 M120.6 800.7 h8.8 M936.1 800.7 h-8.8 M120.6 719.2 h8.8 M936.1 719.2 h-8.8 M120.6 637.7 h8.8 M936.1 637.7 h-8.8 M120.6 556.1 h8.8 M936.1 556.1 h-8.8"/>
<rect class="fr" x="120.6" y="539.6" width="815.5" height="424.6"/>
<text x="106.6" y="570.6" text-anchor="end">0.2</text>
<text x="106.6" y="652.2" text-anchor="end">0.1</text>
<text x="106.6" y="733.7" text-anchor="end">0</text>
<text x="106.6" y="815.2" text-anchor="end">-0.1</text>
<text x="106.6" y="896.8" text-anchor="end">-0.2</text>
<text class="m" transform="translate(28.4 778.9) rotate(-90)"><tspan x="1.6" y="0">y</tspan><tspan class="sl" x="20.6" y="7.7" style="font-size:55px">/</tspan><tspan x="38.1" y="0">c</tspan></text>
<text x="153.3" y="1012.8" text-anchor="middle">0.0</text>
<text x="316.4" y="1012.8" text-anchor="middle">0.2</text>
<text x="479.5" y="1012.8" text-anchor="middle">0.4</text>
<text x="642.5" y="1012.8" text-anchor="middle">0.6</text>
<text x="805.6" y="1012.8" text-anchor="middle">0.8</text>
<text class="m" y="1053.8"><tspan x="501.3">x</tspan><tspan class="sl" x="523.8" y="1061.8" style="font-size:55.6px">/</tspan><tspan x="539.9" y="1053.8">c</tspan></text>
<text y="918" style="font-size:38px;letter-spacing:0"><tspan class="b" x="135.6" style="letter-spacing:2.4px">(c)</tspan><tspan class="m" x="191.8">α</tspan><tspan x="224.8" textLength="31.7" lengthAdjust="spacingAndGlyphs">=</tspan><tspan x="266.7" style="letter-spacing:0px">15.5</tspan><tspan x="332.3" y="917.2" style="font-size:36px">°</tspan></text>
</g>
<g id="panel-d">
<g clip-path="url(#cpd)">
<g clip-path="url(#cfd)">
<path d="M1036 738.8 L1036 699 C1038.3 697.2 1044.8 691.8 1050 688 C1055.2 684.2 1057.9 680.5 1067 676 C1076.1 671.5 1086.2 666.7 1104.5 661 C1122.8 655.3 1152.2 646.8 1176.5 641.7 C1200.8 636.6 1222.8 634.9 1250 630.6 C1277.2 626.3 1297.7 621.2 1339.9 616.1 C1382.1 611 1448.8 604.2 1503.2 600.3 C1557.7 596.4 1621.6 594.2 1666.6 592.8 C1711.6 591.3 1754.1 591.8 1773 591.6 C1791.9 591.4 1778.8 591.6 1780 591.6 L1779.8 591.6 L1779.8 1044.2 L1745 1024.7 Z" fill="#f5f5ff"/>
<path d="M1040 740.4 L1040 699 C1042 697.3 1047.3 692.5 1052 689 C1056.7 685.5 1059.2 682.4 1068 678 C1076.8 673.6 1086.4 668.2 1104.5 662.8 C1122.6 657.4 1152.2 649.9 1176.5 645.4 C1200.8 640.9 1222.8 638.8 1250 635.5 C1277.2 632.2 1297.7 628.5 1339.9 625.4 C1382.1 622.2 1448.8 618.3 1503.2 616.6 C1557.7 614.9 1621.6 615.1 1666.6 615.3 C1711.6 615.5 1754.1 617.3 1773 617.8 C1791.9 618.2 1778.8 618 1780 618 L1779.8 618 L1779.8 1044.2 L1745 1024.7 Z" fill="#d7d7fd"/>
<path d="M1044 742.1 L1044 699 C1045.7 697.5 1049.8 693.2 1054 690 C1058.2 686.8 1060.6 683.7 1069 679.5 C1077.4 675.3 1086.6 669.8 1104.5 664.7 C1122.4 659.6 1153.9 652.8 1176.5 649 C1199.1 645.2 1212.8 644.4 1240 642.1 C1267.2 639.9 1296 637.1 1339.9 635.5 C1383.8 633.9 1448.8 632.4 1503.2 632.5 C1557.7 632.6 1621.6 634.4 1666.6 636 C1711.6 637.6 1754.1 641.2 1773 642.3 C1791.9 643.4 1778.8 642.7 1780 642.8 L1779.8 642.8 L1779.8 1044.2 L1745 1024.7 Z" fill="#b6b6fc"/>
<path d="M1047 743.3 L1047 699 C1048.5 697.7 1051.8 693.8 1056 691 C1060.2 688.2 1063.9 685.4 1072 682 C1080.1 678.6 1087.1 674.4 1104.5 670.9 C1121.9 667.4 1152.2 663.7 1176.5 661 C1200.8 658.3 1222.8 656.6 1250 654.8 C1277.2 653 1297.7 650.9 1339.9 650.4 C1382.1 649.9 1448.8 650.1 1503.2 651.6 C1557.7 653.1 1621.6 656 1666.6 659.1 C1711.6 662.2 1754.1 668.4 1773 670.4 C1791.9 672.4 1778.8 670.9 1780 671 L1779.8 671 L1779.8 1044.2 L1745 1024.7 Z" fill="#9595fa"/>
<path d="M1206.7 718.9 L1217.7 715.9 L1234.6 715 L1251.6 715.6 L1285.4 720.6 L1319.3 724.9 L1339.6 727 L1370 731.6 L1395.5 734.5 L1420.9 734.5 L1450 734.2 L1467.7 740.5 L1503.2 741.7 L1555.3 750.5 L1580.3 751.2 L1605.3 755.5 L1655.4 763 L1705.4 764.3 L1730.5 763.8 L1773 771.3 L1780.5 772.3 L1780.5 1009.5 L1530.2 1009.5 L1400 850 L1332 793.4 L1329.4 790 L1319.3 783.3 L1302.4 774.8 L1285.4 765.5 L1268.5 756.2 L1251.6 747.7 L1234.6 738.4 L1217.7 727.4Z" fill="#b6b6fc"/>
</g>
<path d="M1058 702 L1088 702 L1092.8 706.8 L1109.8 706.8 L1114.6 711.6 L1128.6 711.6 L1133.4 716.4 L1145.4 716.4 L1150.2 721.2 L1160.7 721.2 L1165.5 726 L1175.5 726 L1180.3 730.8 L1189.3 730.8 L1194.1 735.6 L1202.1 735.6 L1206.9 740.4 L1214.9 740.4 L1219.7 745.2 L1227.2 745.2 L1232 750 L1239.5 750 L1244.3 754.8 L1251.3 754.8 L1256.1 759.6 L1262.6 759.6 L1267.4 764.4 L1273.9 764.4 L1278.7 769.2 L1284.7 769.2 L1289.5 774 L1295.5 774 L1300.3 778.8 L1306.3 778.8 L1311.1 783.6 L1316.6 783.6 L1321.4 788.4 L1326.9 788.4 L1331.7 793.2 L1337.2 793.2 L1342 798 L1347.5 798 L1352.3 802.8 L1357.3 802.8 L1362.1 807.6 L1367.1 807.6 L1371.9 812.4 L1376.9 812.4 L1381.7 817.2 L1386.7 817.2 L1391.5 822 L1396 822 L1400.8 826.8 L1405.8 826.8 L1410.6 831.6 L1415.1 831.6 L1419.9 836.4 L1424.4 836.4 L1429.2 841.2 L1433.7 841.2 L1438.5 846 L1443 846 L1447.8 850.8 L1452.3 850.8 L1457.1 855.6 L1461.1 855.6 L1465.9 860.4 L1470.4 860.4 L1475.2 865.2 L1479.2 865.2 L1484 870 L1488 870 L1492.8 874.8 L1496.8 874.8 L1501.6 879.6 L1505.6 879.6 L1510.4 884.4 L1514.4 884.4 L1519.2 889.2 L1523.2 889.2 L1528 894 L1532 894 L1536.8 898.8 L1540.8 898.8 L1545.6 903.6 L1549.1 903.6 L1553.9 908.4 L1557.9 908.4 L1562.7 913.2 L1566.2 913.2 L1571 918 L1575 918 L1579.8 922.8 L1583.3 922.8 L1588.1 927.6 L1591.6 927.6 L1596.4 932.4 L1599.9 932.4 L1604.7 937.2 L1608.2 937.2 L1613 942 L1616.5 942 L1621.3 946.8 L1624.8 946.8 L1629.6 951.6 L1633.1 951.6 L1637.9 956.4 L1640.9 956.4 L1645.7 961.2 L1649.2 961.2 L1654 966 L1657.5 966 L1662.3 970.8 L1665.3 970.8 L1670.1 975.6 L1673.1 975.6 L1677.9 980.4 L1681.4 980.4 L1686.2 985.2 L1689.2 985.2 L1694 990 L1697 990 L1701.8 994.8 L1704.8 994.8 L1709.6 999.6 L1712.6 999.6 L1717.4 1004.4 L1720.4 1004.4 L1725.2 1009.2 L1728.2 1009.2 L1733 1014 L1736 1014 L1740.8 1018.8 L1743.3 1018.8 L1748.1 1023.6 L1782.1 1023.6 L1786.9 1028.4 L1786.9 1025.7 L1780.9 1025.7 L1774.9 1025.7 L1768.9 1025.7 L1762.9 1025.7 L1756.9 1025.7 L1750.9 1025.7 L1744.9 1025.6 L1738.9 1021.8 L1732.9 1018.1 L1726.9 1014.3 L1720.9 1010.6 L1714.9 1006.9 L1708.9 1003.2 L1702.9 999.5 L1696.9 995.8 L1690.9 992.2 L1684.9 988.5 L1678.9 984.9 L1672.9 981.3 L1666.9 977.7 L1660.9 974.1 L1654.9 970.5 L1648.9 966.9 L1642.9 963.4 L1636.9 959.9 L1630.9 956.3 L1624.9 952.8 L1618.9 949.3 L1612.9 945.8 L1606.9 942.3 L1600.9 938.9 L1594.9 935.4 L1588.9 932 L1582.9 928.5 L1576.9 925.1 L1570.9 921.7 L1564.9 918.3 L1558.9 914.9 L1552.9 911.6 L1546.9 908.2 L1540.9 904.9 L1534.9 901.5 L1528.9 898.2 L1522.9 894.9 L1516.9 891.6 L1510.9 888.3 L1504.9 885 L1498.9 881.7 L1492.9 878.5 L1486.9 875.2 L1480.9 872 L1474.9 868.8 L1468.9 865.6 L1462.9 862.4 L1456.9 859.2 L1450.9 856.1 L1444.9 852.9 L1438.9 849.8 L1432.9 846.7 L1426.9 843.6 L1420.9 840.5 L1414.9 837.4 L1408.9 834.3 L1402.9 831.3 L1396.9 828.2 L1390.9 825.2 L1384.9 822.2 L1378.9 819.3 L1372.9 816.3 L1366.9 813.4 L1360.9 810.4 L1354.9 807.5 L1348.9 804.6 L1342.9 801.8 L1336.9 798.9 L1330.9 796.1 L1324.9 793.3 L1318.9 790.5 L1312.9 787.7 L1306.9 785 L1300.9 782.3 L1294.9 779.6 L1288.9 776.9 L1282.9 774.2 L1276.9 771.6 L1270.9 769 L1264.9 766.5 L1258.9 763.9 L1252.9 761.4 L1246.9 758.9 L1240.9 756.5 L1234.9 754.1 L1228.9 751.7 L1222.9 749.3 L1216.9 747 L1210.9 744.7 L1204.9 742.4 L1198.9 740.2 L1192.9 738 L1186.9 735.9 L1180.9 733.8 L1174.9 731.7 L1168.9 729.7 L1162.9 727.8 L1156.9 725.8 L1150.9 724 L1144.9 722.1 L1138.9 720.4 L1132.9 718.6 L1126.9 717 L1120.9 715.4 L1114.9 713.8 L1108.9 712.4 L1102.9 711 L1096.9 709.6 L1090.9 708.4 L1084.9 707.2 L1078.9 706.1 L1072.9 705.1 L1066.9 704.3 L1060.9 703.5 L1058 703.2Z" fill="#fff"/>
<path class="af" d="M987.3 719.2 L987.8 718.1 L988.3 717.1 L988.9 716 L989.6 715.1 L990.3 714.1 L991.1 713.2 L992 712.3 L992.9 711.4 L993.8 710.6 L994.9 709.8 L996 709 L997.1 708.3 L998.4 707.6 L999.6 707 L1001 706.3 L1002.4 705.7 L1003.8 705.2 L1005.4 704.7 L1006.9 704.2 L1008.6 703.7 L1010.3 703.3 L1012.1 702.9 L1013.9 702.5 L1015.8 702.2 L1017.7 701.9 L1019.7 701.7 L1021.7 701.4 L1023.8 701.3 L1026 701.1 L1028.2 701 L1030.5 700.9 L1032.8 700.9 L1035.2 700.8 L1037.7 700.9 L1040.2 700.9 L1042.7 701 L1045.3 701.1 L1048 701.3 L1050.7 701.5 L1053.4 701.7 L1056.2 702 L1059.1 702.3 L1062 702.6 L1065 703 L1068 703.4 L1071 703.9 L1074.1 704.3 L1077.3 704.9 L1080.5 705.4 L1083.7 706 L1087 706.6 L1090.3 707.3 L1093.7 708 L1097.1 708.7 L1100.6 709.4 L1104.1 710.2 L1107.7 711.1 L1111.3 711.9 L1114.9 712.8 L1118.6 713.8 L1122.3 714.7 L1126 715.7 L1129.8 716.8 L1133.7 717.8 L1137.5 719 L1141.4 720.1 L1145.4 721.3 L1149.3 722.5 L1153.3 723.7 L1157.4 725 L1161.4 726.3 L1165.6 727.6 L1169.7 729 L1173.9 730.4 L1178 731.8 L1182.3 733.3 L1186.5 734.8 L1190.8 736.3 L1195.1 737.8 L1199.5 739.4 L1203.8 741 L1208.2 742.7 L1212.6 744.3 L1217.1 746 L1221.5 747.8 L1226 749.5 L1230.5 751.3 L1235 753.1 L1239.6 754.9 L1244.1 756.8 L1248.7 758.7 L1253.3 760.6 L1257.9 762.5 L1262.6 764.5 L1267.2 766.4 L1271.9 768.4 L1276.5 770.5 L1281.2 772.5 L1285.9 774.6 L1290.7 776.7 L1295.4 778.8 L1300.1 780.9 L1304.9 783.1 L1309.6 785.2 L1314.4 787.4 L1319.2 789.6 L1323.9 791.8 L1328.7 794.1 L1333.5 796.3 L1338.3 798.6 L1343.1 800.9 L1347.9 803.2 L1352.7 805.5 L1357.5 807.8 L1362.3 810.1 L1367.2 812.5 L1372 814.8 L1376.8 817.2 L1381.6 819.6 L1386.4 822 L1391.2 824.4 L1396 826.8 L1400.8 829.2 L1405.5 831.6 L1410.3 834 L1415.1 836.5 L1419.8 838.9 L1424.6 841.4 L1429.3 843.8 L1434.1 846.3 L1438.8 848.7 L1443.5 851.2 L1448.2 853.6 L1452.9 856.1 L1457.5 858.6 L1462.2 861 L1466.8 863.5 L1471.4 865.9 L1476 868.4 L1480.6 870.9 L1485.2 873.3 L1489.8 875.8 L1494.3 878.2 L1498.8 880.7 L1503.3 883.1 L1507.7 885.5 L1512.2 888 L1516.6 890.4 L1521 892.8 L1525.4 895.2 L1529.7 897.6 L1534 900 L1538.3 902.4 L1542.6 904.8 L1546.8 907.1 L1551 909.5 L1555.2 911.8 L1559.3 914.2 L1563.4 916.5 L1567.5 918.8 L1571.6 921.1 L1575.6 923.4 L1579.6 925.6 L1583.5 927.9 L1587.4 930.1 L1591.3 932.4 L1595.1 934.6 L1598.9 936.7 L1602.7 938.9 L1606.4 941.1 L1610.1 943.2 L1613.8 945.3 L1617.4 947.4 L1620.9 949.5 L1624.5 951.6 L1628 953.6 L1631.4 955.6 L1634.8 957.6 L1638.2 959.6 L1641.5 961.6 L1644.7 963.5 L1648 965.4 L1651.1 967.3 L1654.3 969.1 L1657.4 971 L1660.4 972.8 L1663.4 974.6 L1666.3 976.3 L1669.2 978.1 L1672.1 979.8 L1674.9 981.5 L1677.6 983.1 L1680.3 984.8 L1683 986.4 L1685.6 987.9 L1688.1 989.5 L1690.6 991 L1693.1 992.5 L1695.5 993.9 L1697.8 995.4 L1700.1 996.8 L1702.3 998.1 L1704.5 999.5 L1706.6 1000.8 L1708.7 1002.1 L1710.7 1003.3 L1712.7 1004.5 L1714.6 1005.7 L1716.4 1006.8 L1718.2 1007.9 L1720 1009 L1721.6 1010 L1723.3 1011.1 L1724.8 1012 L1726.3 1013 L1727.8 1013.9 L1729.2 1014.7 L1730.5 1015.6 L1731.8 1016.4 L1733 1017.1 L1734.2 1017.9 L1735.3 1018.6 L1736.3 1019.2 L1737.3 1019.8 L1738.2 1020.4 L1739.1 1021 L1739.9 1021.5 L1740.7 1021.9 L1741.4 1022.4 L1742 1022.8 L1742.6 1023.1 L1743.1 1023.4 L1743.5 1023.7 L1743.9 1024 L1744.2 1024.2 L1744.5 1024.4 L1744.7 1024.5 L1744.9 1024.6 L1745 1024.6 L1745 1024.7 L1745 1024.7 L1745 1024.6 L1744.9 1024.6 L1744.7 1024.6 L1744.4 1024.5 L1744.1 1024.5 L1743.7 1024.4 L1743.3 1024.3 L1742.8 1024.2 L1742.2 1024.1 L1741.5 1023.9 L1740.8 1023.8 L1740 1023.6 L1739.1 1023.5 L1738.2 1023.3 L1737.2 1023.1 L1736.1 1022.8 L1735 1022.6 L1733.7 1022.4 L1732.5 1022.1 L1731.1 1021.8 L1729.7 1021.5 L1728.2 1021.2 L1726.7 1020.9 L1725.1 1020.6 L1723.4 1020.2 L1721.7 1019.9 L1719.9 1019.5 L1718 1019.1 L1716 1018.7 L1714 1018.2 L1712 1017.8 L1709.8 1017.4 L1707.7 1016.9 L1705.4 1016.4 L1703.1 1015.9 L1700.7 1015.4 L1698.3 1014.9 L1695.8 1014.3 L1693.2 1013.8 L1690.6 1013.2 L1687.9 1012.6 L1685.2 1012 L1682.4 1011.4 L1679.5 1010.8 L1676.6 1010.1 L1673.6 1009.5 L1670.6 1008.8 L1667.5 1008.1 L1664.4 1007.4 L1661.2 1006.7 L1658 1006 L1654.7 1005.2 L1651.3 1004.5 L1647.9 1003.7 L1644.4 1002.9 L1640.9 1002.1 L1637.4 1001.3 L1633.8 1000.4 L1630.1 999.6 L1626.4 998.7 L1622.7 997.8 L1618.9 996.9 L1615 996 L1611.1 995.1 L1607.2 994.2 L1603.2 993.2 L1599.2 992.3 L1595.2 991.3 L1591 990.3 L1586.9 989.3 L1582.7 988.3 L1578.5 987.2 L1574.2 986.2 L1569.9 985.1 L1565.6 984 L1561.2 983 L1556.8 981.9 L1552.3 980.7 L1547.9 979.6 L1543.4 978.5 L1538.8 977.3 L1534.2 976.1 L1529.6 975 L1525 973.8 L1520.3 972.6 L1515.6 971.3 L1510.9 970.1 L1506.1 968.9 L1501.4 967.6 L1496.6 966.3 L1491.7 965.1 L1486.9 963.8 L1482 962.5 L1477.1 961.1 L1472.2 959.8 L1467.3 958.5 L1462.3 957.1 L1457.4 955.8 L1452.4 954.4 L1447.4 953 L1442.4 951.6 L1437.3 950.2 L1432.3 948.8 L1427.2 947.3 L1422.2 945.9 L1417.1 944.4 L1412 943 L1406.9 941.5 L1401.8 940 L1396.7 938.5 L1391.6 937 L1386.5 935.5 L1381.3 934 L1376.2 932.5 L1371.1 930.9 L1366 929.4 L1360.8 927.8 L1355.7 926.2 L1350.6 924.6 L1345.4 923 L1340.3 921.4 L1335.2 919.8 L1330.1 918.2 L1325 916.6 L1319.9 915 L1314.8 913.3 L1309.7 911.7 L1304.7 910 L1299.6 908.3 L1294.6 906.6 L1289.5 905 L1284.5 903.3 L1279.5 901.6 L1274.5 899.8 L1269.6 898.1 L1264.6 896.4 L1259.7 894.7 L1254.8 892.9 L1249.9 891.2 L1245 889.4 L1240.2 887.7 L1235.3 885.9 L1230.5 884.1 L1225.8 882.3 L1221 880.5 L1216.3 878.7 L1211.6 876.9 L1206.9 875.1 L1202.3 873.3 L1197.7 871.5 L1193.1 869.7 L1188.6 867.8 L1184 866 L1179.6 864.2 L1175.1 862.3 L1170.7 860.5 L1166.3 858.6 L1162 856.7 L1157.7 854.9 L1153.5 853 L1149.2 851.1 L1145.1 849.3 L1140.9 847.4 L1136.8 845.5 L1132.8 843.6 L1128.8 841.7 L1124.8 839.9 L1120.9 838 L1117 836.1 L1113.2 834.2 L1109.4 832.3 L1105.6 830.4 L1101.9 828.5 L1098.3 826.6 L1094.7 824.7 L1091.2 822.8 L1087.7 820.9 L1084.2 819 L1080.8 817.2 L1077.5 815.3 L1074.2 813.4 L1071 811.5 L1067.8 809.6 L1064.6 807.7 L1061.6 805.9 L1058.5 804 L1055.6 802.1 L1052.7 800.3 L1049.8 798.4 L1047 796.6 L1044.3 794.7 L1041.6 792.9 L1039 791.1 L1036.4 789.2 L1033.9 787.4 L1031.5 785.6 L1029.1 783.8 L1026.8 782 L1024.5 780.3 L1022.3 778.5 L1020.2 776.7 L1018.1 775 L1016.1 773.2 L1014.2 771.5 L1012.3 769.8 L1010.4 768.1 L1008.7 766.4 L1007 764.7 L1005.3 763 L1003.8 761.4 L1002.3 759.7 L1000.8 758.1 L999.4 756.5 L998.1 754.9 L996.9 753.3 L995.7 751.7 L994.6 750.2 L993.5 748.6 L992.6 747.1 L991.6 745.6 L990.8 744.1 L990 742.6 L989.3 741.2 L988.6 739.7 L988 738.3 L987.5 736.9 L987.1 735.5 L986.7 734.1 L986.4 732.8 L986.1 731.5 L985.9 730.1 L985.8 728.9 L985.8 727.6 L985.8 726.3 L985.9 725.1 L986 723.9 L986.2 722.7 L986.5 721.5 L986.9 720.3 L987.3 719.2Z"/>
<path class="dd" d="M1013.1 538.9 V702.7"/>
<path class="dd" d="M1176.2 538.9 V731.2"/>
<path class="dd" d="M1339.9 538.9 V799.3"/>
<path class="dd" d="M1503.2 538.9 V883.1"/>
<path class="dd" d="M1666.6 538.9 V964.2"/>
<path class="ar" d="M1013.1 566 L1050.4 557 M1038.7 563.4 L1050.4 557 L1037.1 556.6 M1013.1 597.6 L1050.4 586.8 M1038.9 593.8 L1050.4 586.8 L1036.9 587.1 M1013.1 629.2 L1050.4 616.2 M1039.1 623.9 L1050.4 616.2 L1036.7 617.2 M1013.1 660.8 L1050.9 645 M1039.6 653.7 L1050.9 645 L1036.8 646.9 M1013.1 692.4 L1051.6 673.1 M1040.5 683.1 L1051.6 673.1 L1037 676.1 M1176.2 566 L1219.3 559.5 M1205.4 565.6 L1219.3 559.5 L1204.3 557.8 M1176.2 597.6 L1219.8 590.8 M1205.8 597 L1219.8 590.8 L1204.6 589.2 M1176.2 629.2 L1219.3 622.2 M1205.5 628.4 L1219.3 622.2 L1204.2 620.6 M1176.2 660.8 L1183 659 M1180.9 660.3 L1183 659 L1180.6 659 M1176.2 692.4 L1169.7 689.7 M1172.2 690 L1169.7 689.7 L1171.7 691.2 M1176.2 724 L1171.2 721.5 M1173.1 721.9 L1171.2 721.5 L1172.7 722.8 M1339.9 566 L1384 562 M1369.6 567.3 L1384 562 L1368.9 559.3 M1339.9 597.6 L1381.5 594.3 M1367.8 599.2 L1381.5 594.3 L1367.3 591.7 M1339.9 629.2 L1361.5 628.7 M1354.3 630.8 L1361.5 628.7 L1354.2 626.9 M1339.9 660.8 L1340.9 660.3 M1340.6 660.6 L1340.9 660.3 L1340.5 660.4 M1339.9 692.4 L1334.4 690.1 M1336.5 690.4 L1334.4 690.1 L1336.1 691.4 M1339.9 724 L1332.4 720.9 M1335.2 721.2 L1332.4 720.9 L1334.6 722.6 M1339.9 755.6 L1331.4 752 M1334.6 752.5 L1331.4 752 L1333.9 754 M1339.9 787.2 L1331.4 783.6 M1334.6 784.1 L1331.4 783.6 L1333.9 785.6 M1503.2 566 L1546.5 565.2 M1532.1 569.4 L1546.5 565.2 L1531.9 561.6 M1503.2 597.6 L1535.2 597.6 M1524.5 600.5 L1535.2 597.6 L1524.5 594.7 M1503.2 629.2 L1519 628.7 M1513.7 630.3 L1519 628.7 L1513.6 627.4 M1503.2 660.8 L1507.7 659 M1506.4 660 L1507.7 659 L1506 659.2 M1503.2 692.4 L1500.2 690.4 M1501.4 690.8 L1500.2 690.4 L1501 691.3 M1503.2 724 L1498.2 721.5 M1500.1 721.9 L1498.2 721.5 L1499.6 722.8 M1503.2 755.6 L1496.4 752.8 M1499 753.1 L1496.4 752.8 L1498.4 754.3 M1503.2 787.2 L1495.7 784 M1498.5 784.4 L1495.7 784 L1497.9 785.8 M1503.2 818.8 L1494.7 815.2 M1497.9 815.7 L1494.7 815.2 L1497.2 817.2 M1503.2 850.4 L1493.9 846.5 M1497.4 847 L1493.9 846.5 L1496.7 848.7 M1503.2 882 L1493.9 878.1 M1497.4 878.6 L1493.9 878.1 L1496.7 880.3 M1666.6 566 L1706.2 566.5 M1692.9 569.9 L1706.2 566.5 L1693 562.8 M1666.6 597.6 L1696.7 598.1 M1686.5 600.7 L1696.7 598.1 L1686.6 595.2 M1666.6 629.2 L1682.9 629.2 M1677.4 630.7 L1682.9 629.2 L1677.4 627.7 M1666.6 660.8 L1674.1 659.5 M1671.7 660.6 L1674.1 659.5 L1671.5 659.3 M1666.6 692.4 L1665.9 691.1 M1666.2 691.5 L1665.9 691.1 L1666 691.6 M1666.6 724 L1662.4 721.5 M1664 722 L1662.4 721.5 L1663.6 722.7 M1666.6 755.6 L1660.9 753.1 M1663 753.4 L1660.9 753.1 L1662.6 754.5 M1666.6 787.2 L1659.9 784.4 M1662.4 784.7 L1659.9 784.4 L1661.9 785.9 M1666.6 818.8 L1658.4 815.3 M1661.4 815.8 L1658.4 815.3 L1660.8 817.2 M1666.6 850.4 L1657.9 846.7 M1661.1 847.2 L1657.9 846.7 L1660.5 848.8 M1666.6 882 L1657.9 878.3 M1661.1 878.8 L1657.9 878.3 L1660.5 880.4 M1666.6 913.6 L1657.9 909.9 M1661.1 910.4 L1657.9 909.9 L1660.5 912 M1666.6 945.2 L1657.9 941.5 M1661.1 942 L1657.9 941.5 L1660.5 943.6"/>
<path class="ks" d="M1054.2 691.4 C1054.9 690.6 1056.4 688.2 1058.6 686.4 C1060.8 684.6 1063.7 682.8 1067.2 680.8 C1070.7 678.8 1073.5 677.1 1079.7 674.6 C1085.9 672.1 1096.2 668.6 1104.5 665.9 C1112.8 663.2 1121 660.6 1129.3 658.5 C1137.6 656.4 1146.2 655 1154.1 653.5 C1162 652 1168.2 651.2 1176.5 649.8 C1184.8 648.3 1193.2 646.4 1203.8 644.8 C1214.4 643.2 1226.1 642 1240 640.2 C1253.9 638.4 1270.8 636 1287.4 633.9 C1304.1 631.8 1321.5 629.6 1339.9 627.9 C1358.3 626.2 1377.8 624.8 1398 623.5 C1418.2 622.2 1440.9 621.1 1461.2 620.3 C1481.5 619.4 1500.2 619 1520 618.4 C1539.8 617.8 1561.9 617 1580.3 616.6 C1598.7 616.2 1613.6 616.2 1630.3 616.1 C1647 616 1663.7 615.9 1680.4 616.1 C1697.1 616.3 1715.1 616.8 1730.5 617.3 C1745.9 617.8 1764.8 618.8 1773 619.1 C1781.2 619.5 1778.8 619.4 1780 619.4"/>
<path class="kd" d="M1054.2 691.4 C1056.2 690.3 1060.3 686.6 1066 684.6 C1071.7 682.6 1079.5 680.9 1088.1 679.3 C1096.7 677.7 1107.7 676.3 1117.5 674.9 C1127.3 673.5 1136.9 671.9 1146.7 670.9 C1156.5 669.9 1166.3 669.3 1176.2 668.7 C1186.1 668.1 1195.4 667.8 1206 667.3 C1216.6 666.8 1230.1 665.9 1240 665.5 C1249.9 665.1 1251.1 665.2 1265.3 665.1 C1279.5 665 1310.4 665 1325.3 665.1 C1340.2 665.2 1344.8 665.3 1354.6 665.5 C1364.3 665.7 1373.9 665.9 1383.8 666.2 C1393.7 666.5 1403.9 666.7 1413.8 667.1 C1423.7 667.5 1433.1 667.9 1443 668.5 C1452.9 669.1 1463.2 669.9 1473.1 670.9 C1483 671.9 1488.6 673.1 1502.3 674.5 C1516 675.9 1538.1 677.6 1555.3 679.2 C1572.5 680.8 1588.6 682.1 1605.3 684.2 C1622 686.3 1638.7 689.4 1655.4 691.7 C1672.1 694 1685.8 695.1 1705.4 697.9 C1725 700.7 1760.6 706.7 1773 708.7 C1785.4 710.7 1778.8 709.6 1780 709.8" stroke-dashoffset="2.6"/>
<path class="rd" d="M1052.1 534 C1052.2 542.3 1052.2 567.4 1052.4 584.1 C1052.5 600.7 1052.7 620.8 1052.9 634.1 C1053.1 647.5 1053.5 656.6 1053.6 664.1 C1053.7 671.7 1053.9 673.7 1053.6 679.2 C1053.4 684.6 1052.4 693.8 1052.1 696.7"/>
<path class="rd" d="M1219.8 534 C1220.1 538.2 1221.4 548.6 1221.8 559 C1222.2 569.5 1222.3 587.4 1222.3 596.6 C1222.3 605.7 1222.7 608.7 1221.8 614.1 C1220.9 619.5 1220.1 624.3 1216.8 629.1 C1213.5 633.9 1206.8 638.5 1201.8 642.9 C1196.8 647.3 1190.9 651.4 1186.8 655.4 C1182.6 659.3 1179.5 662.3 1176.8 666.6 C1174 671 1171.8 676.7 1170.5 681.7 C1169.2 686.7 1168.9 691.3 1168.7 696.7 C1168.6 702.1 1168.9 708.8 1169.7 714.2 C1170.6 719.6 1173.1 726.7 1173.7 729.2"/>
<path class="rd" d="M1386.5 534 C1386.5 540.3 1387 561.5 1386.5 571.5 C1385.9 581.6 1385.2 587.4 1383.2 594.1 C1381.2 600.7 1378.4 605.3 1374.5 611.6 C1370.5 617.8 1364 625.4 1359.5 631.6 C1354.9 637.9 1350.3 643.7 1346.9 649.1 C1343.6 654.6 1341.5 657.5 1339.4 664.1 C1337.3 670.8 1335.7 679.6 1334.4 689.2 C1333.2 698.8 1332.6 710 1331.9 721.7 C1331.3 733.4 1330.7 747.2 1330.7 759.3 C1330.7 771.4 1331.6 787.6 1331.9 794.3 C1332.2 801 1332.3 798.5 1332.4 799.3"/>
<path class="rd" d="M1550.7 534 C1550.5 539 1550.1 555.7 1549 564 C1547.9 572.4 1546.3 577.8 1544 584.1 C1541.7 590.3 1538.4 595.7 1535.2 601.6 C1532.1 607.4 1528.6 612.8 1525.2 619.1 C1521.9 625.4 1518.1 632.9 1515.2 639.1 C1512.3 645.4 1509.8 650.8 1507.7 656.6 C1505.6 662.5 1504 667.5 1502.7 674.2 C1501.4 680.8 1500.6 686.7 1499.7 696.7 C1498.8 706.7 1497.9 721.7 1497.2 734.2 C1496.5 746.7 1496.2 760.1 1495.7 771.8 C1495.1 783.4 1494.4 790.4 1493.9 804.1 C1493.4 817.8 1492.8 842.1 1492.7 854.2 C1492.6 866.3 1493.1 872.9 1493.2 876.7"/>
<path class="rd" d="M1712.9 534 C1712.1 538.6 1710 552.4 1707.9 561.5 C1705.8 570.7 1703.3 579.9 1700.4 589.1 C1697.5 598.2 1693.7 607.4 1690.4 616.6 C1687.1 625.8 1683.5 634.9 1680.4 644.1 C1677.3 653.3 1674.1 662.9 1671.6 671.7 C1669.1 680.4 1666.9 687.9 1665.4 696.7 C1663.8 705.4 1663.2 713.8 1662.4 724.2 C1661.5 734.6 1660.9 749.5 1660.4 759.3 C1659.8 769 1659.5 775.4 1659.1 782.8 C1658.8 790.3 1658.7 792.2 1658.4 804.1 C1658.1 816 1657.5 837.5 1657.4 854.2 C1657.2 870.9 1657.3 885 1657.4 904.2 C1657.5 923.4 1657.8 958.5 1657.9 969.3"/>
<circle cx="1175.7" cy="795.6" r="7.4" fill="none" stroke="#000" stroke-width="1.7"/>
<path d="M1064.9 747.1 V713.6" stroke="#000" stroke-width="1.7" fill="none"/>
<path d="M1064.9 701.6 L1074.9 727.1 L1064.9 719.6 L1054.9 727.1Z" fill="#000"/>
</g>
<path class="tk" d="M987.3 964.2 v-8.8 M987.3 539.6 v8.8 M1150.7 964.2 v-8.8 M1150.7 539.6 v8.8 M1314.2 964.2 v-8.8 M1314.2 539.6 v8.8 M1477.6 964.2 v-8.8 M1477.6 539.6 v8.8 M1641.1 964.2 v-8.8 M1641.1 539.6 v8.8 M954.6 963.8 h8.8 M1771.8 963.8 h-8.8 M954.6 882.3 h8.8 M1771.8 882.3 h-8.8 M954.6 800.7 h8.8 M1771.8 800.7 h-8.8 M954.6 719.2 h8.8 M1771.8 719.2 h-8.8 M954.6 637.7 h8.8 M1771.8 637.7 h-8.8 M954.6 556.1 h8.8 M1771.8 556.1 h-8.8"/>
<rect class="fr" x="954.6" y="539.6" width="817.2" height="424.6"/>
<text x="987.3" y="1012.8" text-anchor="middle">0.0</text>
<text x="1150.7" y="1012.8" text-anchor="middle">0.2</text>
<text x="1314.2" y="1012.8" text-anchor="middle">0.4</text>
<text x="1477.6" y="1012.8" text-anchor="middle">0.6</text>
<text x="1641.1" y="1012.8" text-anchor="middle">0.8</text>
<text class="m" y="1053.8"><tspan x="1336">x</tspan><tspan class="sl" x="1358.5" y="1061.8" style="font-size:55.6px">/</tspan><tspan x="1374.6" y="1053.8">c</tspan></text>
<text y="918" style="font-size:38px;letter-spacing:0"><tspan class="b" x="962.8" style="letter-spacing:2.4px">(d)</tspan><tspan class="m" x="1021.6">α</tspan><tspan x="1053.8" textLength="31.7" lengthAdjust="spacingAndGlyphs">=</tspan><tspan x="1096" style="letter-spacing:0.8px">22</tspan><tspan x="1133.8" y="917.2" style="font-size:36px">°</tspan></text>
</g>
</svg></body></html>
